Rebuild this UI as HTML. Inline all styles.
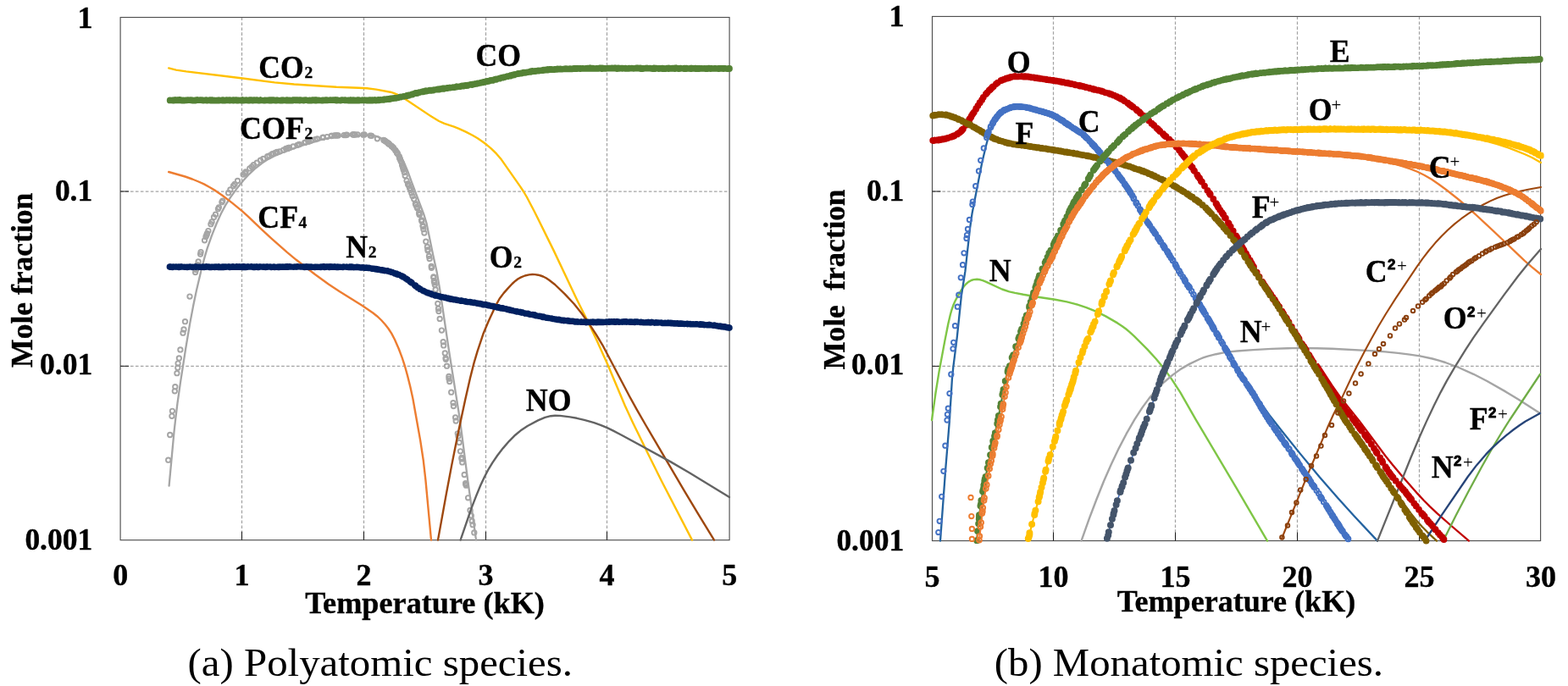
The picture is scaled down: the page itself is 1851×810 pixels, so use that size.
<!DOCTYPE html>
<html lang="en"><head><meta charset="utf-8"><title>Mole fraction vs temperature</title><style>html,body{margin:0;padding:0;background:#fff;overflow:hidden}svg{display:block}text{fill:#000}</style></head><body>
<svg width="1851" height="810" viewBox="0 0 1851 810">
<rect width="1851" height="810" fill="#fff"/>
<!-- (a) polyatomic species -->
<line x1="285.5" y1="20.5" x2="285.5" y2="637.7" stroke="#a3a3a3" stroke-width="1.25" stroke-dasharray="3.6 2.34"/><line x1="429.5" y1="20.5" x2="429.5" y2="637.7" stroke="#a3a3a3" stroke-width="1.25" stroke-dasharray="3.6 2.34"/><line x1="573.5" y1="20.5" x2="573.5" y2="637.7" stroke="#a3a3a3" stroke-width="1.25" stroke-dasharray="3.6 2.34"/><line x1="716.5" y1="20.5" x2="716.5" y2="637.7" stroke="#a3a3a3" stroke-width="1.25" stroke-dasharray="3.6 2.34"/><line x1="142.1" y1="226.0" x2="861.1" y2="226.0" stroke="#a3a3a3" stroke-width="1.25" stroke-dasharray="3.6 2.34"/><line x1="142.1" y1="432.3" x2="861.1" y2="432.3" stroke="#a3a3a3" stroke-width="1.25" stroke-dasharray="3.6 2.34"/>
<rect x="142.1" y="20.5" width="719.0" height="617.2" fill="none" stroke="#4f4f4f" stroke-width="1.15"/><line x1="285.5" y1="627.7" x2="285.5" y2="637.7" stroke="#1a1a1a" stroke-width="1"/><line x1="429.5" y1="627.7" x2="429.5" y2="637.7" stroke="#1a1a1a" stroke-width="1"/><line x1="573.5" y1="627.7" x2="573.5" y2="637.7" stroke="#1a1a1a" stroke-width="1"/><line x1="716.5" y1="627.7" x2="716.5" y2="637.7" stroke="#1a1a1a" stroke-width="1"/><line x1="142.1" y1="226.0" x2="152.1" y2="226.0" stroke="#1a1a1a" stroke-width="1"/><line x1="142.1" y1="432.3" x2="152.1" y2="432.3" stroke="#1a1a1a" stroke-width="1"/>
<clipPath id="cl"><rect x="136.1" y="20.5" width="729.0" height="621.7"/></clipPath>
<g clip-path="url(#cl)">
<path d="M199.2 80.4L207.9 82.6L219.8 84.4L286.5 92.5L324.2 97.4L347.2 99.5L381.1 101.8L397.1 102.8L423.2 103.7L433.2 104.3L444.1 105.6L460.8 108.7L464.7 109.9L468.4 111.4L475.4 115.1L509.6 137.8L518.2 143L524.6 145.8L536 149.6L541.6 151.8L549.8 155.6L557.8 159.8L563.8 163.3L569.6 167.2L574.4 170.8L579.8 175.4L586.2 181.7L592 188.6L614.4 220.6L618.2 226.5L621.8 232.5L631.1 250.2L653.3 295.1L680.3 352.2L694.1 380L704.4 401.7L717.6 431L737.8 479L747.5 499.9L764.6 535L781.1 568.2L817 637.6" fill="none" stroke="#FFC000" stroke-width="2.4" stroke-linecap="round" stroke-linejoin="round"/>
<path d="M199.6 573.6L205.4 510.8L207.3 493.8L209.5 475.9L213.2 450.1L219.2 411.5L224.2 381.9L228.3 360.2L231.8 343.6L237.5 319.2L241.3 304.6L244.7 293.1L249.7 278.9L255.6 264L260.9 252.2L266.1 242.4L272 233.1L279 223.4L287.1 213.2L293.9 205.8L300.5 199.7L309.1 192.8L316.7 187.9L323.8 184.2L335.8 179.3L354.6 172.4L376.6 165.6L389.3 162.5L400.1 160.7L411.1 159.9L431.2 159.5L438.2 159.8L442.1 160.3L445.9 161.4L449.5 163.1L455.3 166.9L461.1 170.9L464.9 174.1L467.8 176.9L470.3 180L473 184.2L477.1 192.2L481.4 202.4L485.8 214.6L500.6 254L503.5 263.6L511.2 300.9L515.5 320.4L519.3 342.1L529.9 413.5L543.1 496.6L552.2 567.2L562 637.6" fill="none" stroke="#A5A5A5" stroke-width="2.3" stroke-linecap="round" stroke-linejoin="round"/>
<g fill="none" stroke="#A5A5A5" stroke-width="1.9"><circle cx="198.7" cy="543.2" r="2.7"/><circle cx="200.7" cy="513.5" r="2.7"/><circle cx="202.9" cy="491.3" r="2.7"/><circle cx="203.4" cy="485.3" r="2.7"/><circle cx="206.3" cy="461.8" r="2.7"/><circle cx="206.8" cy="456.7" r="2.7"/><circle cx="208.9" cy="440.7" r="2.7"/><circle cx="209.8" cy="434.2" r="2.7"/><circle cx="210.1" cy="429.1" r="2.7"/><circle cx="211.4" cy="423" r="2.7"/><circle cx="212.9" cy="412.9" r="2.7"/><circle cx="216" cy="393.2" r="2.7"/><circle cx="217" cy="389" r="2.7"/><circle cx="218.5" cy="379.7" r="2.7"/><circle cx="224" cy="350.1" r="2.7"/><circle cx="230.6" cy="321.6" r="2.7"/><circle cx="231.5" cy="318.6" r="2.7"/><circle cx="232.4" cy="315.8" r="2.7"/><circle cx="233.1" cy="312.7" r="2.7"/><circle cx="234.1" cy="308.9" r="2.7"/><circle cx="236.6" cy="300.1" r="2.7"/><circle cx="237.1" cy="297.6" r="2.7"/><circle cx="241.5" cy="283.8" r="2.7"/><circle cx="243" cy="279.5" r="2.7"/><circle cx="243.9" cy="277.5" r="2.7"/><circle cx="244.5" cy="275.7" r="2.7"/><circle cx="245.9" cy="272.6" r="2.7"/><circle cx="248.9" cy="264.7" r="2.7"/><circle cx="250.1" cy="262" r="2.7"/><circle cx="252.5" cy="256.5" r="2.7"/><circle cx="254.5" cy="253.2" r="2.7"/><circle cx="257.4" cy="246.7" r="2.7"/><circle cx="258.4" cy="244.8" r="2.7"/><circle cx="261.9" cy="238.7" r="2.7"/><circle cx="262.8" cy="237.1" r="2.7"/><circle cx="269.6" cy="227.7" r="2.7"/><circle cx="271.9" cy="223.9" r="2.7"/><circle cx="275.5" cy="219.5" r="2.7"/><circle cx="277.1" cy="217.5" r="2.7"/><circle cx="280.5" cy="213.5" r="2.7"/><circle cx="287.1" cy="206.1" r="2.7"/><circle cx="289.1" cy="204.4" r="2.7"/><circle cx="290.1" cy="203" r="2.7"/><circle cx="294.8" cy="198.9" r="2.7"/><circle cx="297.3" cy="197" r="2.7"/><circle cx="299.4" cy="194.7" r="2.7"/><circle cx="303.3" cy="192.2" r="2.7"/><circle cx="307.5" cy="189.2" r="2.7"/><circle cx="310.8" cy="187.4" r="2.7"/><circle cx="315.7" cy="184.7" r="2.7"/><circle cx="317.9" cy="183.9" r="2.7"/><circle cx="321.1" cy="182" r="2.7"/><circle cx="322.6" cy="181.5" r="2.7"/><circle cx="325" cy="180.4" r="2.7"/><circle cx="326.1" cy="180.2" r="2.7"/><circle cx="327.1" cy="179.5" r="2.7"/><circle cx="330.2" cy="178.8" r="2.7"/><circle cx="334.6" cy="177.2" r="2.7"/><circle cx="337.6" cy="175.5" r="2.7"/><circle cx="339.6" cy="175.4" r="2.7"/><circle cx="340.3" cy="174.7" r="2.7"/><circle cx="341.1" cy="174.5" r="2.7"/><circle cx="341.4" cy="174.4" r="2.7"/><circle cx="346.1" cy="172.9" r="2.7"/><circle cx="351" cy="171.3" r="2.7"/><circle cx="352.5" cy="170.8" r="2.7"/><circle cx="353.4" cy="170.4" r="2.7"/><circle cx="359.7" cy="168.4" r="2.7"/><circle cx="360.7" cy="168.1" r="2.7"/><circle cx="363.8" cy="166.9" r="2.7"/><circle cx="364.8" cy="167.1" r="2.7"/><circle cx="367.4" cy="166" r="2.7"/><circle cx="372" cy="164.7" r="2.7"/><circle cx="374.5" cy="163.9" r="2.7"/><circle cx="380.9" cy="162.4" r="2.7"/><circle cx="381.6" cy="162.2" r="2.7"/><circle cx="386.1" cy="161.6" r="2.7"/><circle cx="391.2" cy="160.5" r="2.7"/><circle cx="391.6" cy="160.4" r="2.7"/><circle cx="394.8" cy="160" r="2.7"/><circle cx="396.7" cy="159.9" r="2.7"/><circle cx="397.8" cy="159.9" r="2.7"/><circle cx="399.2" cy="159.9" r="2.7"/><circle cx="406.1" cy="159.6" r="2.7"/><circle cx="408.3" cy="159.5" r="2.7"/><circle cx="409.5" cy="159.2" r="2.7"/><circle cx="416.3" cy="158.8" r="2.7"/><circle cx="417.1" cy="158.9" r="2.7"/><circle cx="417.7" cy="159" r="2.7"/><circle cx="419.1" cy="159" r="2.7"/><circle cx="422.1" cy="158.9" r="2.7"/><circle cx="428.8" cy="159.2" r="2.7"/><circle cx="430.2" cy="158.9" r="2.7"/><circle cx="437.1" cy="160.1" r="2.7"/><circle cx="438.7" cy="160.3" r="2.7"/><circle cx="445.4" cy="163.8" r="2.7"/><circle cx="452.9" cy="165.5" r="2.7"/><circle cx="453.9" cy="165.8" r="2.7"/><circle cx="455" cy="166.7" r="2.7"/><circle cx="455.9" cy="167.3" r="2.7"/><circle cx="458" cy="169" r="2.7"/><circle cx="458.2" cy="169" r="2.7"/><circle cx="458.8" cy="169.4" r="2.7"/><circle cx="459" cy="170" r="2.7"/><circle cx="460.1" cy="170.6" r="2.7"/><circle cx="462.1" cy="172.4" r="2.7"/><circle cx="462.8" cy="172.8" r="2.7"/><circle cx="464.2" cy="174.3" r="2.7"/><circle cx="464.5" cy="174.6" r="2.7"/><circle cx="466.5" cy="177.1" r="2.7"/><circle cx="467.1" cy="178" r="2.7"/><circle cx="468.5" cy="180" r="2.7"/><circle cx="468.7" cy="180.6" r="2.7"/><circle cx="469.2" cy="180.8" r="2.7"/><circle cx="469" cy="181.2" r="2.7"/><circle cx="471.1" cy="184.5" r="2.7"/><circle cx="471.6" cy="185.9" r="2.7"/><circle cx="471.8" cy="187" r="2.7"/><circle cx="472.3" cy="187.9" r="2.7"/><circle cx="473.1" cy="190.1" r="2.7"/><circle cx="474" cy="191.8" r="2.7"/><circle cx="474.6" cy="194.9" r="2.7"/><circle cx="475.4" cy="197.1" r="2.7"/><circle cx="475.9" cy="198.2" r="2.7"/><circle cx="476.2" cy="200.3" r="2.7"/><circle cx="477.3" cy="203.5" r="2.7"/><circle cx="478.2" cy="207.6" r="2.7"/><circle cx="480.1" cy="213.3" r="2.7"/><circle cx="481.5" cy="216.9" r="2.7"/><circle cx="481.7" cy="217.7" r="2.7"/><circle cx="482.7" cy="219.6" r="2.7"/><circle cx="483.6" cy="222.2" r="2.7"/><circle cx="484.7" cy="224.4" r="2.7"/><circle cx="485.8" cy="227.9" r="2.7"/><circle cx="487" cy="231.6" r="2.7"/><circle cx="488.7" cy="235.1" r="2.7"/><circle cx="490.4" cy="240.4" r="2.7"/><circle cx="491" cy="241.9" r="2.7"/><circle cx="492" cy="244.3" r="2.7"/><circle cx="492.6" cy="245.8" r="2.7"/><circle cx="494.7" cy="251.2" r="2.7"/><circle cx="494.9" cy="252.6" r="2.7"/><circle cx="495.2" cy="253.6" r="2.7"/><circle cx="497.6" cy="259.8" r="2.7"/><circle cx="497.9" cy="261.2" r="2.7"/><circle cx="499.1" cy="266.5" r="2.7"/><circle cx="499.3" cy="267.5" r="2.7"/><circle cx="499.9" cy="270.7" r="2.7"/><circle cx="500.9" cy="275.1" r="2.7"/><circle cx="502.8" cy="285.2" r="2.7"/><circle cx="504.4" cy="291.5" r="2.7"/><circle cx="505" cy="294.8" r="2.7"/><circle cx="505.1" cy="296" r="2.7"/><circle cx="506.5" cy="302.4" r="2.7"/><circle cx="507.1" cy="305.5" r="2.7"/><circle cx="509.2" cy="314.5" r="2.7"/><circle cx="509.4" cy="316.3" r="2.7"/><circle cx="511.8" cy="326.9" r="2.7"/><circle cx="511.9" cy="327.7" r="2.7"/><circle cx="512.4" cy="331.5" r="2.7"/><circle cx="512.5" cy="332.5" r="2.7"/><circle cx="513" cy="333.7" r="2.7"/><circle cx="513.3" cy="336.3" r="2.7"/><circle cx="514.1" cy="341.9" r="2.7"/><circle cx="515.2" cy="348.1" r="2.7"/><circle cx="515.4" cy="349.4" r="2.7"/><circle cx="516.8" cy="358.5" r="2.7"/><circle cx="517.5" cy="364.4" r="2.7"/><circle cx="517.9" cy="367.6" r="2.7"/><circle cx="519.2" cy="376.4" r="2.7"/><circle cx="521.4" cy="390.1" r="2.7"/><circle cx="523.2" cy="403.7" r="2.7"/><circle cx="523.7" cy="407.9" r="2.7"/><circle cx="525.3" cy="416.9" r="2.7"/><circle cx="526.1" cy="422.8" r="2.7"/><circle cx="526.3" cy="424.3" r="2.7"/><circle cx="527.5" cy="432.2" r="2.7"/><circle cx="529.9" cy="444.5" r="2.7"/><circle cx="530" cy="447.2" r="2.7"/><circle cx="530.7" cy="450.6" r="2.7"/><circle cx="532.7" cy="463.2" r="2.7"/><circle cx="535" cy="475.7" r="2.7"/><circle cx="535.4" cy="479.5" r="2.7"/><circle cx="537.6" cy="492.9" r="2.7"/><circle cx="538.2" cy="497" r="2.7"/><circle cx="540.3" cy="511.8" r="2.7"/><circle cx="541" cy="515" r="2.7"/><circle cx="542.1" cy="522.5" r="2.7"/><circle cx="543.5" cy="532.8" r="2.7"/><circle cx="545" cy="540.3" r="2.7"/><circle cx="545" cy="541.9" r="2.7"/><circle cx="545.7" cy="545.9" r="2.7"/><circle cx="548.2" cy="560.5" r="2.7"/><circle cx="549.6" cy="570.6" r="2.7"/><circle cx="549.8" cy="571.8" r="2.7"/><circle cx="550.3" cy="573.2" r="2.7"/><circle cx="552.6" cy="587.8" r="2.7"/><circle cx="555" cy="602.5" r="2.7"/><circle cx="556.3" cy="608.8" r="2.7"/><circle cx="557.2" cy="615.2" r="2.7"/><circle cx="558.1" cy="619.7" r="2.7"/><circle cx="559.8" cy="628.9" r="2.7"/></g>
<path d="M199.2 203L218.5 208.5L227 211.5L234.4 214.5L240.8 217.4L247.8 221.2L254.7 225.4L262.1 230.5L274.1 239.6L285.7 249.1L292.4 255.2L308.3 270.4L320.2 281.3L338.9 297.8L349.7 306.8L371.9 324L388.1 335.8L400.6 344.1L427.9 361L440.3 369.5L445 373.2L450.1 378L454.8 383.2L458.5 388L462.3 393.9L466 401L470.8 412L474.7 422.3L477.8 431.8L481 443.4L484.4 457L487.4 470.7L496.2 520.1L499.8 543.8L502.4 566.7L509 637.6" fill="none" stroke="#ED7D31" stroke-width="2.4" stroke-linecap="round" stroke-linejoin="round"/>
<path d="M517 637.6L526.8 583.4L533.1 549.9L541.1 509.7L549.3 471.5L555.1 446.1L559.5 428.6L563.5 415.2L570.4 394.3L576.6 379.5L585.4 360.4L589.8 352.5L594.6 346.1L599.9 340.1L604.7 335L608.4 331.7L611.6 329.3L615.1 327.4L619.7 325.5L624.6 324.4L628.5 324L631.5 324.1L635.4 324.7L638.3 325.5L641.1 326.5L644.6 328.3L648 330.5L655.1 336L666.7 347.1L677.6 358.8L686.4 369.7L695.2 381.9L704 395.3L711.2 407.3L743.4 468.5L751.6 483.4L762.6 502.5L807.7 579.4L824.2 606.9L843 637.6" fill="none" stroke="#9E480E" stroke-width="2.4" stroke-linecap="round" stroke-linejoin="round"/>
<path d="M543.6 637.6L556.3 600.6L562.1 585.6L567.4 572.7L572.1 562.7L576.8 553.8L581.5 546.1L587.2 537.8L593.9 529.1L601.1 520.8L608.2 513.7L614.4 508.6L622.7 503L635.1 496.4L643.4 492.9L650.1 491.2L655.1 490.7L661.1 490.9L673 492.4L680.9 493.8L689.7 495.9L701.3 499.2L708.9 501.8L716.3 504.9L723.5 508.4L733.3 513.5L791.4 545.1L813.9 558.3L861 587" fill="none" stroke="#636363" stroke-width="2.4" stroke-linecap="round" stroke-linejoin="round"/>
<path d="M200.5 118.4L431.9 118.4L446.9 118.2L457.8 117.1L470.7 115L482.4 112.6L495 109.1L501.8 107.7L544.5 101.8L558.3 99.6L576 95.9L606.2 88.5L616.9 86.1L628.8 84.2L644.7 82.6L653.7 81.9L665.7 81.4L698.7 80.8L861 81" fill="none" stroke="#548235" stroke-width="2.2" stroke-linecap="round" stroke-linejoin="round"/><path d="M200.7 118.4h0M204 118.3h0M204.2 118.6h0M205.2 118.5h0M206.4 118.2h0M206.7 118.4h0M207.1 118.2h0M209.2 118.2h0M209.7 118.4h0M210.7 118.2h0M211.4 118.3h0M211.9 118.2h0M212.1 118.2h0M213.2 118.2h0M213.1 118.3h0M214.6 118.5h0M216.3 118.4h0M217 118.6h0M217.8 118.6h0M219.2 118.3h0M220.5 118.3h0M221.9 118.2h0M224.9 118.2h0M225.7 118.3h0M227.2 118.5h0M230.5 118.5h0M231 118.6h0M231.5 118.3h0M232.6 118.2h0M233.2 118.2h0M236.4 118.2h0M238.5 118.3h0M239.5 118.4h0M240 118.6h0M243.3 118.2h0M244.2 118.5h0M244.7 118.5h0M245 118.4h0M248 118.2h0M248.5 118.6h0M248.9 118.4h0M249 118.4h0M249.7 118.6h0M250.2 118.2h0M251.3 118.5h0M251.2 118.5h0M251.6 118.5h0M253.8 118.6h0M255.5 118.6h0M257.6 118.3h0M258.8 118.5h0M262.5 118.5h0M263 118.2h0M264.7 118.4h0M265.8 118.5h0M267.1 118.3h0M267.5 118.2h0M268.5 118.4h0M270.4 118.4h0M271.1 118.2h0M271.3 118.5h0M271.9 118.4h0M275.3 118.5h0M275.4 118.2h0M275.8 118.5h0M276.7 118.4h0M277.9 118.3h0M278.7 118.3h0M279.5 118.5h0M281.2 118.5h0M284.7 118.5h0M286.1 118.3h0M286.5 118.5h0M286.8 118.3h0M287.7 118.6h0M289.1 118.3h0M290.7 118.4h0M291.3 118.4h0M292.9 118.6h0M294.5 118.5h0M294.8 118.2h0M296.6 118.2h0M297.3 118.4h0M298 118.6h0M298.7 118.6h0M300 118.2h0M301.3 118.4h0M303 118.2h0M305 118.6h0M306.1 118.6h0M306.4 118.6h0M307.2 118.3h0M307.4 118.4h0M307.8 118.4h0M311.3 118.6h0M312.9 118.5h0M316.4 118.3h0M317.9 118.5h0M318.2 118.4h0M318.8 118.2h0M319.6 118.4h0M320.4 118.6h0M320.9 118.2h0M322.9 118.4h0M323.9 118.4h0M325 118.6h0M326.4 118.5h0M327.5 118.4h0M330.7 118.6h0M330.8 118.6h0M332.2 118.4h0M333.5 118.3h0M333.5 118.5h0M334.7 118.4h0M338 118.6h0M337.9 118.6h0M338.6 118.3h0M338.8 118.2h0M339.3 118.5h0M340 118.6h0M342 118.5h0M345.1 118.4h0M345.4 118.5h0M346.9 118.2h0M348.7 118.2h0M350.1 118.4h0M350.7 118.3h0M351.4 118.4h0M352.7 118.3h0M353.4 118.3h0M353.8 118.6h0M354.7 118.2h0M358.3 118.4h0M358.4 118.6h0M360.8 118.2h0M364 118.6h0M363.9 118.6h0M365.4 118.5h0M366.3 118.6h0M367.9 118.5h0M369.1 118.3h0M369.9 118.2h0M372.1 118.5h0M372.6 118.3h0M373.4 118.5h0M374.2 118.3h0M376.2 118.3h0M379.7 118.6h0M381.1 118.6h0M381.7 118.3h0M383.7 118.4h0M383.8 118.4h0M385.5 118.2h0M386.7 118.3h0M390.1 118.2h0M393.2 118.2h0M395.4 118.2h0M396.1 118.2h0M397 118.4h0M397.3 118.4h0M397.4 118.5h0M398.2 118.4h0M398.6 118.4h0M401.9 118.6h0M404.1 118.2h0M407.2 118.2h0M408 118.4h0M411.2 118.5h0M413.2 118.4h0M414 118.5h0M414.4 118.5h0M416.4 118.4h0M417 118.5h0M418.6 118.4h0M419.7 118.6h0M419.6 118.6h0M421.4 118.5h0M423.2 118.2h0M424.1 118.5h0M427.4 118.4h0M428.2 118.4h0M430.3 118.3h0M430.7 118.4h0M433 118.6h0M433 118.4h0M435 118.7h0M435.2 118.5h0M437.1 118.2h0M437.9 118.6h0M438 118.6h0M438.4 118.4h0M439.6 118.2h0M439.9 118.5h0M441.9 118.3h0M442.1 118.2h0M442.9 118.2h0M443.8 118.6h0M445.2 118.1h0M446.9 118h0M447.6 118.3h0M449.3 117.9h0M452.3 117.9h0M453.3 117.4h0M454.2 117.4h0M456 117.3h0M456.7 117.2h0M457.5 117.1h0M459.9 117h0M460.3 116.7h0M460.9 116.6h0M461.6 116.6h0M463.6 116.2h0M466.1 115.8h0M466.5 115.9h0M469.8 115.3h0M472.3 114.6h0M473 114.6h0M476.5 113.8h0M479.9 113.3h0M480.4 112.9h0M480.8 112.9h0M481.2 112.7h0M482.4 112.7h0M483.9 112.1h0M486 111.6h0M486.7 111.5h0M487.4 111.1h0M490.7 110h0M491.4 109.8h0M492.2 110h0M493 109.7h0M495 109.1h0M498.4 108.4h0M500.6 108h0M501.4 107.8h0M502.2 107.5h0M502.8 107.5h0M503.6 107.5h0M504.1 107.3h0M505.3 107.1h0M507.3 106.7h0M508.4 106.9h0M509.2 106.7h0M510.6 106.6h0M511.5 106.5h0M512.5 106.1h0M515.9 105.7h0M516.8 105.4h0M517 105.7h0M518.5 105.5h0M519.2 105.2h0M520.1 105.1h0M521.4 104.8h0M521.9 104.9h0M522.9 104.5h0M523.5 104.9h0M524.5 104.5h0M527.3 104.1h0M528.3 104h0M528.6 103.8h0M529.1 103.8h0M530.5 103.7h0M531.5 103.6h0M535 103.2h0M536.6 103.1h0M538.9 102.5h0M539.2 102.3h0M542.7 102.2h0M544.7 101.6h0M545.2 101.7h0M546.5 101.4h0M547.2 101.5h0M548.8 101.2h0M549.5 100.9h0M551.2 101h0M551.7 100.9h0M552.1 100.6h0M555.6 99.9h0M557.1 100h0M557.4 99.7h0M559.8 99.3h0M562 98.9h0M564 98.4h0M567.4 97.8h0M568 97.6h0M570 97.3h0M571.1 96.9h0M572 96.7h0M574 96.1h0M575.7 96.1h0M575.9 95.8h0M576.9 95.7h0M579.2 95h0M581.4 94.9h0M581.6 94.7h0M584.9 93.6h0M585.7 93.8h0M586 93.4h0M589.6 92.7h0M589.9 92.6h0M593.1 91.7h0M595.6 91.1h0M599.1 90.2h0M602.1 89.7h0M603.2 89.2h0M603.4 88.9h0M605 88.7h0M605.8 88.4h0M606.8 88.4h0M608.2 87.8h0M611.7 87h0M612.2 86.9h0M615.6 86.5h0M616.4 86.1h0M618.1 85.7h0M619.7 85.8h0M620.3 85.7h0M623.5 85.1h0M625.2 84.8h0M625.7 84.9h0M626.9 84.2h0M627.5 84.4h0M628.3 84h0M628.6 84.2h0M632 84h0M635.5 83.5h0M636.1 83.6h0M639.4 83.2h0M640.2 83.1h0M641.2 83h0M641.5 82.7h0M642.6 82.8h0M643.4 82.6h0M645.4 82.4h0M646.1 82.4h0M646.3 82.3h0M646.8 82.5h0M648.3 82.1h0M649 82h0M649.8 81.9h0M650.9 82h0M651.9 82.2h0M654.8 82h0M655.5 81.8h0M657.4 81.7h0M657.7 81.8h0M658.3 81.5h0M659.4 81.6h0M659.8 81.6h0M660 81.7h0M661.4 81.3h0M662.7 81.7h0M666 81.4h0M667.6 81.2h0M669.8 81.3h0M671.7 81.4h0M673 81.2h0M674.4 81.4h0M676.2 81.1h0M677.4 80.9h0M678.2 81.1h0M679.3 81h0M681.2 81h0M681.6 80.8h0M682.2 80.8h0M684.6 80.8h0M684.8 81h0M685.2 81.1h0M687.3 80.9h0M688.2 80.9h0M691.4 80.9h0M693.3 80.7h0M694.6 80.8h0M694.7 80.8h0M695.3 80.9h0M695.6 80.7h0M696 80.7h0M697.2 80.7h0M697.5 80.7h0M698.4 80.9h0M699.9 80.6h0M701.5 80.9h0M703.9 80.8h0M704.6 80.9h0M706.6 80.8h0M707.5 80.6h0M707.8 80.6h0M710 80.5h0M710.5 81h0M712.2 80.7h0M712.7 80.8h0M714.5 80.9h0M717.6 80.6h0M719.6 80.7h0M721.1 80.7h0M722.5 80.5h0M724.3 80.6h0M725.5 80.5h0M726.7 80.5h0M728.4 81h0M729.3 80.7h0M729.9 80.5h0M730.9 80.8h0M733.2 80.6h0M734.7 80.8h0M735.1 80.6h0M738.3 80.7h0M739 80.9h0M742.5 80.8h0M742.7 80.6h0M745.9 80.7h0M748 80.8h0M751.4 80.5h0M753 80.5h0M753.7 80.7h0M755.8 80.5h0M756.4 81h0M757.2 80.6h0M758.8 81h0M759.2 80.8h0M762.3 80.6h0M763.6 80.7h0M764.2 80.6h0M767.3 80.6h0M769.6 80.9h0M770.3 81h0M771.3 80.6h0M772 80.7h0M773.2 81h0M773 80.7h0M774.7 80.6h0M777.8 81h0M779.3 80.8h0M780 80.8h0M780.6 80.9h0M781.3 80.8h0M781.8 80.6h0M781.9 81h0M782.4 80.8h0M783 80.8h0M783.8 81h0M785.9 80.8h0M785.8 81h0M786.3 80.9h0M786.6 80.9h0M787.5 80.7h0M789.3 81h0M789.4 80.7h0M789.8 80.6h0M790.9 80.8h0M793.2 80.9h0M793.5 80.8h0M793.7 80.7h0M795.8 80.7h0M795.9 80.8h0M796.8 80.7h0M796.7 81h0M797.1 80.8h0M797.9 80.7h0M798.3 80.6h0M799 80.7h0M801 81h0M801.7 81.1h0M802.1 80.8h0M802.4 80.9h0M803.4 80.7h0M806.5 80.8h0M807.3 81h0M808 80.7h0M809 81h0M810.1 80.8h0M810.1 81h0M810.4 80.7h0M811.1 80.8h0M814.3 80.8h0M815 81h0M815.4 80.7h0M816.2 80.9h0M816.3 81h0M816.8 80.6h0M818.7 80.8h0M821 81.1h0M820.8 80.7h0M823.1 80.8h0M824.1 81h0M824.9 81h0M825.4 81.1h0M826.1 80.9h0M826.3 80.9h0M828.5 80.9h0M831.3 80.9h0M832.8 81.1h0M833.7 80.9h0M833.9 81.1h0M834.3 81.1h0M835.2 81.1h0M836.9 80.7h0M838.9 81.1h0M839.3 80.9h0M840.1 80.9h0M843.3 80.9h0M844.8 80.9h0M848 81h0M848.9 81.1h0M849.6 80.9h0M850.5 80.8h0M850.9 80.8h0M851.4 80.9h0M852.5 80.8h0M854 81h0M854.6 80.8h0M856 80.9h0M859.3 81.2h0M860.3 81h0M861 81h0" fill="none" stroke="#548235" stroke-width="7.8" stroke-linecap="round"/>
<path d="M200.5 315.2L398 315.2L420.1 315.5L434.1 316.4L449.9 318.7L455.9 319.8L463.6 321.9L470.2 324.2L474.7 326.3L479.9 329.4L484.8 332.9L493.4 339.8L497.6 342.5L501.1 344.3L504.8 345.8L515.4 349.2L524.1 351.3L533.9 353.3L564.6 358.4L577.4 360.8L627.4 371.5L654 376.7L672.9 379.2L687.9 380.3L698.9 380.5L729 380L745 380.1L774.1 381L825.2 383.1L844.2 384.4L861 387" fill="none" stroke="#002060" stroke-width="2.2" stroke-linecap="round" stroke-linejoin="round"/><path d="M200.4 315.1h0M201.1 315.1h0M201.7 315.3h0M202.1 315.3h0M203.6 315.4h0M204.6 315.1h0M207.9 315.1h0M211.2 315.4h0M211.1 315h0M212.9 315.3h0M213.4 315h0M214.3 315h0M217.6 315.2h0M221 315.4h0M222.7 315.3h0M224.2 315h0M227.3 315.4h0M230.6 315.1h0M231.7 315.1h0M234.8 315.2h0M236.7 315.3h0M238.8 315.2h0M239.7 315h0M240.8 315.4h0M243.1 315.1h0M243.1 315.2h0M243.4 315.1h0M244.5 315h0M246.4 315h0M247.3 315.4h0M249.5 315.4h0M250.8 315.2h0M252.6 315.2h0M253.6 315.4h0M255.3 315h0M255.8 315.2h0M257.7 315.4h0M257.6 315.1h0M258.4 315.1h0M259.3 315.4h0M259.7 315.4h0M259.8 315.3h0M261.8 315.4h0M262.7 315h0M263.9 315.4h0M264.1 315.4h0M264.5 315h0M265.1 315.2h0M266.7 315.3h0M266.5 315h0M269.9 315.1h0M270.5 315.1h0M271.2 315.4h0M271.7 315.2h0M273.4 315.2h0M274 315.1h0M274.9 315h0M275.8 315.1h0M276.4 315.3h0M277.9 315.2h0M278.8 315h0M279.4 315.1h0M280.4 315.1h0M280.7 315.2h0M280.9 315.2h0M281.6 315.2h0M282.2 315.1h0M282.8 315.1h0M283 315.3h0M283.5 315.3h0M284.7 315.2h0M286.3 315.4h0M286.6 315h0M287 315h0M287.1 315.4h0M288 315.1h0M288.1 315.3h0M288.4 315h0M290.4 315.4h0M292.5 315.1h0M293 315h0M295.8 315h0M296.9 315h0M297.4 315h0M299.1 315.4h0M300.2 315.2h0M300.1 315.1h0M300.8 315.4h0M302.5 315h0M303.4 315h0M304.4 315.4h0M305.2 315.4h0M306.3 315h0M307.5 315h0M310.6 315.2h0M311.1 315h0M313.5 315.4h0M313.4 315.3h0M314.6 315h0M314.6 315h0M315.8 315.1h0M318.9 315.1h0M319.7 315.3h0M320.2 315.4h0M321.9 315.2h0M323.3 315.1h0M324.2 315.4h0M327.7 315.3h0M328.6 315.4h0M329.4 315.4h0M329.9 315.2h0M330.7 315.1h0M332.4 315.3h0M333.3 315h0M335.5 315.2h0M336.4 315.3h0M337.2 315.2h0M339.3 314.9h0M340.1 315.2h0M341.9 314.9h0M343.5 315h0M346.6 315.2h0M348 315h0M349.8 315.1h0M351.1 314.9h0M354.6 315h0M357.9 315.1h0M358.4 315.2h0M359.5 315.4h0M359.9 315.3h0M361.7 315h0M362.1 315.1h0M364.2 315.4h0M364.8 315.2h0M365.7 315.2h0M366.8 315.2h0M367.1 315h0M367.8 315.3h0M368.2 315.2h0M371.7 315.4h0M373.1 315.3h0M374.9 315.3h0M378.3 315.3h0M378.6 315.4h0M380.8 315h0M382.5 314.9h0M383.1 315.4h0M383.7 315.3h0M385.4 315.1h0M386.5 315h0M388.5 315.3h0M388.7 315.4h0M389 315.4h0M390.5 315.1h0M390.7 315.1h0M392.6 315h0M392.8 315.2h0M393.7 315.2h0M394.2 315.2h0M394.8 315.1h0M395.4 315.1h0M397.3 315.4h0M398.5 315.1h0M399.2 315.4h0M399.1 315.2h0M401.3 315.3h0M404.7 315.5h0M405.4 315.2h0M405.6 315.1h0M409.1 315.3h0M409.4 315.2h0M411.4 315.5h0M412.2 315.4h0M413.9 315.1h0M414.6 315.2h0M415.3 315.1h0M415.1 315.4h0M416.8 315.2h0M417.8 315.6h0M418.3 315.5h0M420.8 315.5h0M421.2 315.3h0M421.6 315.5h0M422.4 315.5h0M423.6 315.5h0M424.3 315.7h0M425.8 316h0M427.6 315.8h0M428.5 316h0M429.8 316h0M430.2 316.2h0M432.5 316.1h0M434.8 316.5h0M435.4 316.3h0M438.7 317.1h0M439.9 317.2h0M441.2 317.3h0M443 317.8h0M443.9 317.6h0M444.1 318h0M445.8 318.2h0M446.5 318.1h0M448.3 318.5h0M450.3 318.9h0M451.1 318.8h0M451.7 319.1h0M452.5 319h0M453 319.2h0M453.9 319.6h0M457.3 319.9h0M459.5 320.6h0M460.2 320.8h0M462.4 321.5h0M463 321.5h0M466.2 322.9h0M467.8 323.1h0M468.9 324h0M469.5 324.1h0M470.7 324.3h0M474.2 326h0M474.5 326.1h0M475.8 326.9h0M476.4 327.1h0M479.3 329h0M481.1 330.3h0M484.1 332.6h0M484.8 333h0M485.3 333.2h0M486.1 334h0M489.7 336.8h0M490 337h0M490.6 337.3h0M491 338h0M493.3 339.8h0M494 340h0M495.9 341.4h0M499.4 343.2h0M500.4 343.7h0M503.6 345.2h0M505.1 345.7h0M505.4 345.9h0M507.7 346.7h0M508.6 346.9h0M509.1 347.3h0M509.4 347.5h0M510 347.8h0M513.6 348.6h0M513.8 348.9h0M514.6 349h0M518 349.8h0M519 350.1h0M520.6 350.8h0M522.2 350.8h0M525.4 351.4h0M527.8 352.1h0M528.4 352.3h0M528.8 352.5h0M529.5 352.4h0M530 352.8h0M530.9 352.5h0M531.7 352.7h0M532 353.2h0M533.3 353h0M534.9 353.6h0M536.3 353.7h0M538.3 354.1h0M539.3 354.2h0M540.3 354.5h0M543.7 355.2h0M544 355h0M544.8 355h0M545.6 355.2h0M549.2 355.9h0M550 356.2h0M550.7 356.2h0M551.6 356.5h0M554.8 356.6h0M555.2 356.8h0M556.1 356.9h0M559.2 357.5h0M559.8 357.4h0M562.9 358.1h0M565.4 358.5h0M566.3 358.7h0M566.8 358.6h0M567.8 358.8h0M568.6 359.1h0M570.3 359.7h0M572.4 359.6h0M574.7 360.1h0M575 360.2h0M575.8 360.5h0M576.3 360.4h0M576.7 360.7h0M579.8 361.2h0M582.4 361.6h0M582.8 362h0M583.7 362.3h0M587 363h0M587.5 362.7h0M588.3 362.8h0M589.4 363.5h0M591.6 363.9h0M592.2 364h0M592.6 363.9h0M593.3 363.9h0M593.8 364.2h0M597.2 364.8h0M599.4 365.5h0M600.5 365.6h0M600.6 365.8h0M601.6 365.9h0M602 366.3h0M603 366.2h0M604.5 366.6h0M604.9 366.7h0M608.4 367.5h0M609.2 367.8h0M609.8 368h0M610.2 367.8h0M613.7 368.5h0M614.4 368.8h0M614.6 368.6h0M615.3 368.7h0M615.8 369.1h0M616.2 368.9h0M619.8 370.1h0M623.1 370.4h0M623.9 370.7h0M624.8 371h0M625.3 371.2h0M628.9 371.6h0M630.5 371.9h0M630.9 371.9h0M632.1 372.6h0M632.8 372.7h0M636.2 373.3h0M638.3 373.6h0M640.9 374.4h0M641.4 374h0M641.8 374.3h0M645.1 375.2h0M647.4 375.5h0M650.9 376h0M652.7 376.5h0M655.8 377h0M658.1 377.5h0M659.6 377.4h0M660.1 377.6h0M661.2 377.7h0M662.6 378.1h0M664.9 378.3h0M665.7 378.6h0M666.7 378.5h0M670.2 378.6h0M670.5 379h0M671.1 378.9h0M672.1 379h0M672.3 379.3h0M674.7 379.3h0M676.3 379.3h0M678.7 379.9h0M679.1 380h0M681.2 379.9h0M682.1 380.1h0M685.5 380.3h0M686.2 380.3h0M686.3 380.3h0M688.5 380.3h0M689.3 380.2h0M691.6 380.6h0M691.7 380.6h0M692.2 380.6h0M694.1 380.4h0M697.4 380.3h0M699.6 380.5h0M699.5 380.3h0M699.8 380.4h0M700.3 380.6h0M701.2 380.4h0M703.1 380.6h0M704.6 380.3h0M704.8 380.6h0M705.5 380.3h0M706.5 380.1h0M707.7 380.4h0M708.8 380.2h0M710.3 380.4h0M712.3 380.5h0M714.4 380.2h0M716 380.1h0M718 380.1h0M719.2 379.9h0M719 380.1h0M719.7 380.3h0M720.3 380.1h0M721.9 379.9h0M723.9 380h0M724.6 379.8h0M725 379.8h0M725.3 380.2h0M727.3 380.1h0M727.9 379.8h0M728.1 379.8h0M730.1 380.1h0M730.5 380.2h0M731.2 380.2h0M734.6 380.1h0M735.8 380h0M737 379.8h0M739 380h0M739.5 380.1h0M739.8 380h0M743.5 380.2h0M743.6 380.1h0M745.4 380h0M746.8 380.3h0M748.4 380.3h0M749.1 380.4h0M750.9 380h0M752.3 380.1h0M755.7 380.5h0M756.7 380.3h0M757.1 380.5h0M757.6 380.5h0M759.3 380.7h0M762.6 380.8h0M763.5 380.7h0M764.5 380.8h0M764.8 380.6h0M765.5 380.6h0M767.8 380.9h0M768.9 380.6h0M769.7 380.6h0M772.8 381.1h0M774.4 380.8h0M775.2 381h0M777 381h0M780.5 381h0M780.9 381.2h0M781.7 381.5h0M784.6 381.5h0M785.1 381.4h0M788.4 381.4h0M789 381.3h0M791.3 381.4h0M792.2 381.7h0M792.8 381.7h0M793.6 381.6h0M795.5 382h0M796.6 381.8h0M798.8 382h0M799.5 381.8h0M800.8 382.3h0M802.4 382h0M803.1 382.2h0M803.8 382.1h0M804.3 382.2h0M805.6 382.3h0M807.8 382.5h0M811.2 382.2h0M811.6 382.6h0M814.6 382.6h0M815.6 382.7h0M818.1 382.7h0M821.2 382.8h0M822.3 382.7h0M822.5 382.8h0M826.1 383.2h0M826.4 383.2h0M826.9 382.9h0M827.6 383h0M828 383.3h0M829.5 383.1h0M830.1 383.3h0M830.5 383.4h0M831.3 383.6h0M834.7 383.7h0M836.8 383.6h0M837.7 383.6h0M838 383.7h0M838.5 383.8h0M842.1 384.3h0M843.2 384.1h0M846.1 384.7h0M848.6 385.2h0M850 385h0M851.3 385.3h0M851.9 385.7h0M854.3 386h0M854.4 385.8h0M855 385.8h0M856.7 386.3h0M857.1 386.2h0M857.8 386.6h0M858.4 386.7h0M858.6 386.6h0M859.9 386.9h0M860.3 386.9h0M861 387.1h0" fill="none" stroke="#002060" stroke-width="7.6" stroke-linecap="round"/>
</g>
<text font-family="'Liberation Serif','Times New Roman',Times,serif" font-weight="bold" font-size="37.5" stroke="#000" stroke-width="0.35"><tspan x="305.3" y="92" textLength="53.5" lengthAdjust="spacingAndGlyphs">CO</tspan><tspan x="359.4" y="92" font-size="19.5">2</tspan></text>
<text font-family="'Liberation Serif','Times New Roman',Times,serif" font-weight="bold" font-size="37.5" stroke="#000" stroke-width="0.35"><tspan x="283.0" y="163.8" textLength="76.0" lengthAdjust="spacingAndGlyphs">COF</tspan><tspan x="359.6" y="163.8" font-size="19.5">2</tspan></text>
<text font-family="'Liberation Serif','Times New Roman',Times,serif" font-weight="bold" font-size="37.5" stroke="#000" stroke-width="0.35"><tspan x="561.6" y="78" textLength="53.5" lengthAdjust="spacingAndGlyphs">CO</tspan></text>
<text font-family="'Liberation Serif','Times New Roman',Times,serif" font-weight="bold" font-size="37.5" stroke="#000" stroke-width="0.35"><tspan x="304.3" y="269" textLength="47.7" lengthAdjust="spacingAndGlyphs">CF</tspan><tspan x="352.6" y="269" font-size="19.5">4</tspan></text>
<text font-family="'Liberation Serif','Times New Roman',Times,serif" font-weight="bold" font-size="37.5" stroke="#000" stroke-width="0.35"><tspan x="408.3" y="304.4" textLength="25.9" lengthAdjust="spacingAndGlyphs">N</tspan><tspan x="434.8" y="304.4" font-size="19.5">2</tspan></text>
<text font-family="'Liberation Serif','Times New Roman',Times,serif" font-weight="bold" font-size="37.5" stroke="#000" stroke-width="0.35"><tspan x="577.8" y="316.4" textLength="27.9" lengthAdjust="spacingAndGlyphs">O</tspan><tspan x="606.3" y="316.4" font-size="19.5">2</tspan></text>
<text font-family="'Liberation Serif','Times New Roman',Times,serif" font-weight="bold" font-size="37.5" stroke="#000" stroke-width="0.35"><tspan x="620.8" y="485" textLength="53.7" lengthAdjust="spacingAndGlyphs">NO</tspan></text>
<text x="91.6" y="32.5" textLength="18.0" lengthAdjust="spacingAndGlyphs" font-family="'Liberation Serif','Times New Roman',Times,serif" font-weight="bold" font-size="36" stroke="#000" stroke-width="0.35">1</text>
<text x="64.9" y="237.2" textLength="44.3" lengthAdjust="spacingAndGlyphs" font-family="'Liberation Serif','Times New Roman',Times,serif" font-weight="bold" font-size="36" stroke="#000" stroke-width="0.35">0.1</text>
<text x="47.1" y="441.9" textLength="62.1" lengthAdjust="spacingAndGlyphs" font-family="'Liberation Serif','Times New Roman',Times,serif" font-weight="bold" font-size="36" stroke="#000" stroke-width="0.35">0.01</text>
<text x="29.4" y="649.0" textLength="79.8" lengthAdjust="spacingAndGlyphs" font-family="'Liberation Serif','Times New Roman',Times,serif" font-weight="bold" font-size="36" stroke="#000" stroke-width="0.35">0.001</text>
<text x="142.2" y="691.3" text-anchor="middle" font-family="'Liberation Serif','Times New Roman',Times,serif" font-weight="bold" font-size="36" stroke="#000" stroke-width="0.35">0</text>
<text x="285.5" y="691.3" text-anchor="middle" font-family="'Liberation Serif','Times New Roman',Times,serif" font-weight="bold" font-size="36" stroke="#000" stroke-width="0.35">1</text>
<text x="429.5" y="691.3" text-anchor="middle" font-family="'Liberation Serif','Times New Roman',Times,serif" font-weight="bold" font-size="36" stroke="#000" stroke-width="0.35">2</text>
<text x="573.5" y="691.3" text-anchor="middle" font-family="'Liberation Serif','Times New Roman',Times,serif" font-weight="bold" font-size="36" stroke="#000" stroke-width="0.35">3</text>
<text x="716.5" y="691.3" text-anchor="middle" font-family="'Liberation Serif','Times New Roman',Times,serif" font-weight="bold" font-size="36" stroke="#000" stroke-width="0.35">4</text>
<text x="861.2" y="691.3" text-anchor="middle" font-family="'Liberation Serif','Times New Roman',Times,serif" font-weight="bold" font-size="36" stroke="#000" stroke-width="0.35">5</text>
<text x="360.3" y="724.2" textLength="282.6" lengthAdjust="spacingAndGlyphs" font-family="'Liberation Serif','Times New Roman',Times,serif" font-weight="bold" font-size="36" stroke="#000" stroke-width="0.35">Temperature (kK)</text>
<text transform="translate(37.6,433.9) rotate(-90)" textLength="206.3" lengthAdjust="spacingAndGlyphs" font-family="'Liberation Serif','Times New Roman',Times,serif" font-weight="bold" font-size="36" stroke="#000" stroke-width="0.35">Mole fraction</text>
<text x="221.6" y="797.8" textLength="454.4" lengthAdjust="spacingAndGlyphs" font-family="'Liberation Serif','Times New Roman',Times,serif" font-size="46.5">(a) Polyatomic species.</text>
<!-- (b) monatomic species -->
<line x1="1243.5" y1="19.45" x2="1243.5" y2="638.6" stroke="#a3a3a3" stroke-width="1.25" stroke-dasharray="3.6 2.34"/><line x1="1387.5" y1="19.45" x2="1387.5" y2="638.6" stroke="#a3a3a3" stroke-width="1.25" stroke-dasharray="3.6 2.34"/><line x1="1531.5" y1="19.45" x2="1531.5" y2="638.6" stroke="#a3a3a3" stroke-width="1.25" stroke-dasharray="3.6 2.34"/><line x1="1675.5" y1="19.45" x2="1675.5" y2="638.6" stroke="#a3a3a3" stroke-width="1.25" stroke-dasharray="3.6 2.34"/><line x1="1100.5" y1="226.0" x2="1818.6" y2="226.0" stroke="#a3a3a3" stroke-width="1.25" stroke-dasharray="3.6 2.34"/><line x1="1100.5" y1="432.4" x2="1818.6" y2="432.4" stroke="#a3a3a3" stroke-width="1.25" stroke-dasharray="3.6 2.34"/>
<rect x="1100.5" y="19.45" width="718.1" height="619.1" fill="none" stroke="#4f4f4f" stroke-width="1.15"/><line x1="1243.5" y1="628.6" x2="1243.5" y2="638.6" stroke="#1a1a1a" stroke-width="1"/><line x1="1387.5" y1="628.6" x2="1387.5" y2="638.6" stroke="#1a1a1a" stroke-width="1"/><line x1="1531.5" y1="628.6" x2="1531.5" y2="638.6" stroke="#1a1a1a" stroke-width="1"/><line x1="1675.5" y1="628.6" x2="1675.5" y2="638.6" stroke="#1a1a1a" stroke-width="1"/><line x1="1100.5" y1="226.0" x2="1110.5" y2="226.0" stroke="#1a1a1a" stroke-width="1"/><line x1="1100.5" y1="432.4" x2="1110.5" y2="432.4" stroke="#1a1a1a" stroke-width="1"/>
<clipPath id="cr"><rect x="1094.5" y="19.45" width="728.0999999999999" height="623.6"/></clipPath>
<g clip-path="url(#cr)">
<path d="M1100 496L1104.6 463.3L1108.6 438.6L1115.4 402.1L1119.3 382.5L1121.8 371.7L1123.4 366L1125.4 360.3L1127.4 355.7L1130.2 350.4L1134.2 343.5L1137.6 338.5L1140.2 335.5L1143.2 332.9L1146.6 331L1149.4 330.1L1153.3 329.8L1157.2 330.3L1160 331.2L1163.7 332.6L1182.8 341.5L1191.4 344.3L1198.2 345.9L1208 347.8L1223.8 350.5L1245.6 353.8L1259.4 356.4L1269.1 358.8L1282.4 363.1L1293.6 367.6L1305.2 373.4L1319.1 381.4L1324.1 384.7L1329 388.3L1333.6 392.1L1338.8 396.8L1354.3 412.4L1364.5 423.5L1373.4 434.3L1383.4 448.1L1393.2 463.2L1411.6 495.3L1460.1 577.2L1496 638.6" fill="none" stroke="#7FC646" stroke-width="2.4" stroke-linecap="round" stroke-linejoin="round"/>
<path d="M1276.5 638.6L1285.9 612.1L1294.4 589.7L1303 568.3L1311.9 548.1L1320.9 529.1L1329.7 512.2L1339.2 495.7L1348.4 481.4L1356.7 470.1L1365.2 460.2L1374.4 451L1384.4 442.6L1394.1 435.6L1404.5 429.6L1416.3 424L1420.9 422.2L1425.7 420.6L1435.4 418.2L1443.3 416.6L1451.2 415.4L1460.2 414.5L1479.2 413.1L1501.2 411.9L1520.2 411.2L1537.2 411L1554.3 411.2L1572.3 411.7L1617.3 414.1L1635.3 415.4L1650.3 416.9L1664.2 418.6L1676.1 420.4L1690.8 423.5L1698.5 425.6L1706.2 428L1722.1 434L1739.5 441.8L1755.5 450L1776.4 461.9L1792.7 471.8L1818 488" fill="none" stroke="#A5A5A5" stroke-width="2.4" stroke-linecap="round" stroke-linejoin="round"/>
<path d="M1556 430L1572.5 455.2L1581.8 468.4L1604.4 496.6L1635.6 538.5L1644.5 549.4L1654.8 561.8L1673.4 582.9L1680.9 591L1688 598.1L1696.8 606.3L1713.4 621L1734 638.6" fill="none" stroke="#C00000" stroke-width="2.3" stroke-linecap="round" stroke-linejoin="round"/>
<path d="M1588 496L1652.1 587.6L1665.7 606.4L1671.9 614.3L1678.6 621.8L1685 628.3L1696 638.6" fill="none" stroke="#7F6000" stroke-width="2.3" stroke-linecap="round" stroke-linejoin="round"/>
<path d="M1110 638.6L1116 556.6L1120.9 496.7L1123.9 447.7L1125.3 433.7L1129.7 398.9L1134.9 349.1L1139.4 320.4L1144.9 270.6L1147.6 251.7L1159.3 191.7L1164.2 171.3L1170 150" fill="none" stroke="#2463A0" stroke-width="2.3" stroke-linecap="round" stroke-linejoin="round"/>
<path d="M1460 436L1498.4 490L1513.3 509L1535.4 536.4L1557.9 563.4L1579.7 588.4L1598.5 609.3L1626 638.6" fill="none" stroke="#2463A0" stroke-width="2.3" stroke-linecap="round" stroke-linejoin="round"/>
<path d="M1600 185L1619.9 188L1630.8 190L1640.6 192.2L1654.2 195.9L1664.8 199.4L1673.2 202.8L1681.3 206.7L1690 211.8L1698.3 217.5L1707.2 224L1719.9 234L1729.2 241.7L1740.4 251.8L1763.3 273.1L1799.8 307.8L1808.1 315.1L1819 324" fill="none" stroke="#ED7D31" stroke-width="2.3" stroke-linecap="round" stroke-linejoin="round"/>
<path d="M1700 156L1745.6 164.7L1757.4 167.4L1768.1 170.3L1782.4 175.1L1800.3 182.2L1808.5 186L1819 192" fill="none" stroke="#FFC000" stroke-width="2.3" stroke-linecap="round" stroke-linejoin="round"/>
<path d="M1513 636L1543.9 559.8L1567.7 503.5L1573.9 489.8L1583.9 470.1L1595.8 444.7L1601.5 433L1610.3 416.1L1618.8 400.2L1627.2 385.3L1635.9 370.7L1647.2 352.9L1672.3 315.4L1679.2 305.6L1686.6 296L1694.3 286.8L1701.8 278.7L1708.9 271.7L1717.2 264.4L1725 258.2L1733.2 252.4L1742.5 246.5L1751.2 241.5L1759.3 237.4L1767.5 233.8L1776 230.8L1784.7 228.2L1794.4 225.8L1805.2 223.5L1819 221" fill="none" stroke="#9E480E" stroke-width="2.1" stroke-linecap="round" stroke-linejoin="round"/>
<path d="M1626 638.6L1665.3 540.8L1675.4 516.7L1683.6 498.4L1692.6 479.3L1700.7 463.1L1707.8 449.9L1717.4 433.4L1730.1 412.9L1739.4 398.6L1751 382.2L1775 348.8L1791.9 326.3L1803.2 312.2L1819 294" fill="none" stroke="#636363" stroke-width="2.3" stroke-linecap="round" stroke-linejoin="round"/>
<path d="M1706 634L1718.6 608.8L1733.5 580.2L1749.3 551L1760.7 530.8L1771 513.5L1781.7 496.5L1818 442" fill="none" stroke="#70AD47" stroke-width="2.3" stroke-linecap="round" stroke-linejoin="round"/>
<path d="M1685 634L1702.1 607.9L1732.7 563L1743 549.4L1754.2 536.4L1761.2 529.1L1769.3 521.6L1777.7 514.4L1786.4 507.5L1793.7 502.2L1800.4 497.8L1818 488" fill="none" stroke="#264478" stroke-width="2.3" stroke-linecap="round" stroke-linejoin="round"/>
<path d="M1101 166L1112.9 164.5L1119.7 162.9L1123.5 161.5L1127.1 159.8L1130.5 157.8L1132.9 156L1135.9 153.3L1139 149.5L1158.7 118.1L1163.5 111.7L1169.5 104.9L1175.3 99.5L1178.5 97.1L1181.1 95.6L1183.8 94.3L1187.5 92.8L1192.3 91.4L1196.2 90.6L1202.2 90.1L1210.2 90.5L1221.1 91.7L1240 94.5L1252.8 96.6L1264.6 99L1278.3 102.1L1292.9 105.8L1308.2 110.2L1314.8 112.6L1319.4 114.6L1323.9 116.9L1328.1 119.6L1340.2 128.5L1346.4 133.5L1352.5 138.8L1367.7 153.3L1385.3 169.7L1392.7 177.8L1401.7 189.9L1410.9 203L1423.2 221.3L1444.4 254.1L1456.4 273.8L1477.1 310.4L1489.8 332L1495.7 341.3L1508.1 359.6L1514.6 369.7L1560.4 443.9L1571.3 460.7L1578.8 471.3L1597.3 495L1615.8 520L1623.1 530.8L1636.1 552.2L1641.8 560.4L1646.8 566.7L1660.5 582.7L1681.3 609.6L1706 638.6" fill="none" stroke="#C00000" stroke-width="2.2" stroke-linecap="round" stroke-linejoin="round"/><path d="M1101.2 165.8h0M1101.8 166.1h0M1102.1 166.1h0M1103 165.7h0M1103.6 165.7h0M1107 165.2h0M1107.7 165.5h0M1108.7 165h0M1109.8 164.9h0M1110.2 165.1h0M1110.6 164.8h0M1112.1 164.5h0M1112.8 164.5h0M1113.4 164.4h0M1114.9 164.1h0M1115.9 163.9h0M1117 163.5h0M1118 163.3h0M1118.8 163h0M1122.3 161.8h0M1122.7 161.8h0M1124 161.2h0M1125.2 160.9h0M1125.7 160.4h0M1126.6 160.2h0M1130 158.4h0M1130.4 158h0M1131.9 157.1h0M1133.2 156.1h0M1133.6 155.8h0M1135 154.5h0M1135.3 153.7h0M1135.9 153.4h0M1136.9 152.3h0M1140.3 147.8h0M1141.1 146.6h0M1141.5 145.7h0M1143.9 142.1h0M1143.9 141.8h0M1144.3 141.5h0M1144.3 140.9h0M1145 139.9h0M1146.3 138.2h0M1146.8 136.9h0M1148.1 134.7h0M1149.2 133.3h0M1149.8 132.6h0M1152 129.1h0M1152.4 128h0M1154.4 124.8h0M1156.8 121.2h0M1156.6 121.1h0M1159.1 118h0M1160.8 114.8h0M1163.9 111h0M1165.4 109.3h0M1167.7 106.7h0M1168.4 106.1h0M1169.2 105.5h0M1171 103.4h0M1171.5 103h0M1172.1 102.5h0M1172.8 102.1h0M1175.9 99.1h0M1177.8 97.6h0M1181.5 95.2h0M1182.2 95h0M1183.1 94.5h0M1185.4 93.7h0M1187.5 92.8h0M1188.1 92.4h0M1189.1 92.5h0M1190.2 91.9h0M1191 91.8h0M1191.2 91.9h0M1192 91.4h0M1193 91.3h0M1193.4 90.9h0M1196.8 90.4h0M1197.5 90.4h0M1198.3 90.3h0M1198.9 90.3h0M1199.3 90.3h0M1202.2 90.3h0M1205.9 90.1h0M1206.2 90.2h0M1206.9 90.3h0M1207.2 90.3h0M1208.3 90.5h0M1209.5 90.2h0M1211.4 90.5h0M1213.4 90.5h0M1214.4 90.6h0M1215.6 90.9h0M1218.1 91.4h0M1220.1 91.4h0M1221.6 91.7h0M1222 92.1h0M1222.6 91.9h0M1223.1 92h0M1225.5 92.4h0M1227.1 92.7h0M1227.6 92.6h0M1228.8 92.9h0M1231.9 93.3h0M1234.9 93.7h0M1235.5 94h0M1239.1 94.4h0M1240.2 94.6h0M1241.9 94.8h0M1243.1 95h0M1243.4 95h0M1246.6 95.7h0M1247.4 95.6h0M1248.6 95.8h0M1251 96.3h0M1251.5 96.6h0M1252.2 96.4h0M1253.5 96.6h0M1254 97h0M1254.6 97h0M1255.1 96.9h0M1258.6 97.9h0M1259.6 97.9h0M1260.5 97.9h0M1261.6 98.4h0M1262.2 98.3h0M1263.2 98.8h0M1264.6 99h0M1268.1 99.6h0M1268.8 100.1h0M1269.5 100.3h0M1270.4 100.3h0M1273.6 100.8h0M1274.2 101.2h0M1274.8 101.5h0M1275.4 101.2h0M1275.8 101.3h0M1277 101.7h0M1278.6 102h0M1281.7 102.9h0M1282.6 103.2h0M1286.2 103.9h0M1286.5 104.3h0M1290.2 104.9h0M1290.6 105.4h0M1291.5 105.4h0M1291.9 105.6h0M1292 105.5h0M1292.5 105.9h0M1295.9 106.6h0M1296.8 106.6h0M1300 107.5h0M1301.3 107.9h0M1302 108.1h0M1305 109.3h0M1308.7 110.1h0M1309.9 110.7h0M1311.2 111.3h0M1311.6 111.1h0M1314.6 112.6h0M1315.2 112.6h0M1318.1 113.9h0M1320.6 115.2h0M1321.8 115.5h0M1322.1 116.1h0M1322.6 116h0M1323.3 116.8h0M1325.2 117.5h0M1326.9 118.8h0M1327.6 119.3h0M1331.1 121.5h0M1332.1 122.3h0M1333.3 123.3h0M1333.7 123.7h0M1334.8 124.1h0M1335.8 125.2h0M1336.2 125.3h0M1337.4 126.2h0M1337.7 126.6h0M1341.4 129.2h0M1342 130h0M1342.5 130.4h0M1344.9 132.1h0M1345.9 133.3h0M1346.4 133.8h0M1349.6 136.5h0M1351.5 138.1h0M1353.2 139.3h0M1356.3 142.6h0M1359.5 145.7h0M1359.9 146.1h0M1362.2 148h0M1365.3 151.1h0M1366.4 152h0M1367.3 152.9h0M1369.1 154.7h0M1369.3 155h0M1372.9 157.9h0M1373.1 158.2h0M1374.6 159.9h0M1376 160.9h0M1376.5 161.2h0M1380 164.3h0M1380.1 164.7h0M1380.8 165.5h0M1382.8 167.3h0M1384.1 168.7h0M1385 169.4h0M1385.7 169.7h0M1386.9 171.1h0M1388.7 173.5h0M1392 177.2h0M1392.5 177.6h0M1394.5 180.4h0M1395.1 181.3h0M1395.8 181.7h0M1396.1 182.3h0M1397.2 184h0M1397.6 184.3h0M1398.4 184.9h0M1398.7 185.4h0M1398.7 185.7h0M1399.5 186.6h0M1400.8 188.5h0M1401 188.8h0M1402.3 190.5h0M1403.5 192.6h0M1404 193.4h0M1405.2 195.1h0M1406.5 196.8h0M1407.6 197.7h0M1409.3 201.1h0M1410 201.8h0M1413.3 206.4h0M1414.4 208.5h0M1416.1 210.4h0M1417.9 213.9h0M1418.9 214.7h0M1422 219.6h0M1425.4 224.8h0M1427.5 227.8h0M1428.2 228.5h0M1428.7 229.4h0M1428.7 229.8h0M1432.3 235h0M1435.5 240.2h0M1436.4 241.5h0M1437.6 243.8h0M1438.2 244.7h0M1440.2 247.8h0M1442.4 250.8h0M1443.8 253h0M1444.2 253.4h0M1445.9 256.9h0M1446.9 257.6h0M1449.9 263.1h0M1450.6 263.9h0M1452.7 267.6h0M1455.7 272.7h0M1459.1 278.4h0M1460.1 279.8h0M1461.3 282.4h0M1462.7 284.8h0M1464.1 287.1h0M1465.9 291h0M1466.8 292.6h0M1467.9 294.4h0M1468.6 295.7h0M1470.9 299.4h0M1471.3 300.3h0M1473.2 303.7h0M1475.7 307.5h0M1476.1 308.7h0M1477.2 310.3h0M1478 311.9h0M1479.4 314.3h0M1480 315.1h0M1479.9 315.6h0M1483.7 321.6h0M1486.6 327h0M1490 332.6h0M1490.4 333.2h0M1491.3 334.6h0M1492.7 336.8h0M1493.8 338.5h0M1495.2 340.7h0M1496.4 342.2h0M1497.3 343.6h0M1498.4 345.1h0M1498.7 345.6h0M1498.9 346.3h0M1500.2 347.7h0M1502.4 350.8h0M1502.4 351.6h0M1503.3 352.9h0M1504 353.9h0M1504.7 354h0M1504.8 354.5h0M1505.6 355.7h0M1506 356.8h0M1507.6 358.8h0M1508.8 361h0M1510.1 362.2h0M1513.3 367.6h0M1513.4 367.7h0M1514.6 369.7h0M1515.4 371.1h0M1517.5 374.5h0M1518.7 375.7h0M1519.5 377.6h0M1521.5 380.5h0M1524.8 386h0M1528 391.5h0M1528.8 392.3h0M1530.9 396h0M1531 396.3h0M1532.2 397.8h0M1533.5 399.9h0M1533.6 400.4h0M1536.8 405.9h0M1537.6 407.1h0M1539.2 409.1h0M1539.8 410.3h0M1540.3 411.2h0M1540.9 412.2h0M1541.8 413.3h0M1544.9 418.9h0M1545.4 419.5h0M1545.7 419.9h0M1547.1 422.3h0M1547.4 423.3h0M1548.2 424.3h0M1549.1 425.8h0M1550.5 427.8h0M1553.9 433.1h0M1554.5 434.2h0M1557.8 439.5h0M1558.8 441.2h0M1560.9 444.9h0M1561.6 445.7h0M1562.7 447h0M1564.2 450.2h0M1565.3 451.8h0M1566.4 453.5h0M1566.8 453.9h0M1568.7 456.8h0M1570.7 460.1h0M1571.3 460.9h0M1571.9 461.6h0M1572.5 462.8h0M1574.6 465.7h0M1574.8 466.4h0M1575.5 466.4h0M1575.7 466.8h0M1576.3 468h0M1577.9 469.9h0M1578.3 470.6h0M1581.4 474.8h0M1584.8 479h0M1585.1 479.6h0M1586.6 481.3h0M1587.9 483.3h0M1589.7 485.6h0M1590.4 486.3h0M1590.8 486.8h0M1592.7 489.4h0M1593.3 489.8h0M1596.5 493.9h0M1597.9 495.8h0M1598.7 496.8h0M1600.2 498.7h0M1600.6 499.6h0M1602.9 502.6h0M1603.9 503.5h0M1604.5 504.4h0M1605.1 505.4h0M1605.7 506h0M1605.7 506.3h0M1606.4 507.2h0M1607.1 508.1h0M1607.6 508.7h0M1611.1 513.2h0M1611.4 514.1h0M1611.8 514.5h0M1612.9 515.7h0M1614 517.3h0M1615.3 519.4h0M1615.9 519.8h0M1618.9 524.5h0M1622 529.3h0M1624.2 532.8h0M1624.7 533.7h0M1625.6 535h0M1629.2 540.3h0M1629.2 541.3h0M1631.7 544.4h0M1632.2 545.9h0M1635.5 551.1h0M1635.7 551.5h0M1636.5 552.8h0M1637.4 553.9h0M1639.4 557.2h0M1639.9 557.9h0M1640.7 558.9h0M1641.7 560.5h0M1643.3 562.3h0M1643.8 563.2h0M1644.2 563.7h0M1644.6 563.9h0M1647.7 567.7h0M1651.4 571.9h0M1652.3 573.1h0M1653 573.6h0M1655.1 576.5h0M1656.2 577.6h0M1656.9 578.1h0M1657.3 579h0M1659 580.5h0M1659.5 581.6h0M1660 582.3h0M1660.7 583.2h0M1662.3 584.9h0M1663.5 586.5h0M1664.2 587.9h0M1665.4 588.7h0M1666.2 589.9h0M1669.3 594.3h0M1671.7 597.5h0M1675 601.7h0M1678.2 605.9h0M1679.1 607.1h0M1679.6 607.2h0M1681 608.9h0M1681.2 609.5h0M1681.7 609.6h0M1684.9 613.9h0M1686.1 615.8h0M1686.8 616.5h0M1688.7 618.3h0M1690.7 620.6h0M1691 620.9h0M1694.3 624.9h0M1694.7 625.5h0M1697.8 629.1h0M1699.9 631.6h0M1702.5 634.2h0M1703.1 635.2h0M1704.5 637h0" fill="none" stroke="#C00000" stroke-width="7.8" stroke-linecap="round"/>
<path d="M1101 136.4L1108.9 135.2L1113.9 135.2L1118.8 136.1L1125.4 138.2L1134.7 142.1L1144.5 147.1L1152.4 151.4L1165.2 159.3L1170.5 162.1L1178.8 165.6L1188.4 168.5L1197.2 170.3L1222 173.8L1256.7 179.3L1286.3 184.5L1299 187.3L1312.6 190.7L1326.1 194.6L1340.4 199L1350.8 202.7L1360 206.6L1371.8 212.1L1383.4 218L1392.1 223L1406.4 232.2L1413 236.8L1419.3 241.9L1428.7 250.8L1440.3 263.3L1452.4 278L1460.1 288.5L1488.7 332L1507.1 359.5L1519.9 379.9L1536 406.4L1563.6 453L1571.6 466.9L1583.2 487.9L1589.4 498.2L1595 506.5L1611.6 530.4L1645 580.4L1652.1 591.3L1670.2 620.2L1676 628.3L1684 638.6" fill="none" stroke="#7F6000" stroke-width="2.2" stroke-linecap="round" stroke-linejoin="round"/><path d="M1101.2 136.6h0M1101.9 136.4h0M1103 135.9h0M1103.8 136h0M1105.3 135.8h0M1106.3 135.6h0M1108.2 135.2h0M1111.7 135.2h0M1112.2 135.3h0M1115.5 135.6h0M1116.7 135.4h0M1117.3 135.9h0M1120.2 136.4h0M1122.4 137.2h0M1122.8 137.6h0M1124 137.7h0M1124.3 137.9h0M1125.8 138.4h0M1127 138.6h0M1127.9 139.3h0M1131.1 140.5h0M1131.5 141h0M1135 142.1h0M1136.4 143.2h0M1138.5 144.1h0M1141.7 145.9h0M1144 146.7h0M1144.9 147.4h0M1145.4 147.4h0M1146 147.8h0M1148.9 149.7h0M1151.1 150.7h0M1151.9 151.3h0M1153.8 152.4h0M1154.3 152.8h0M1156 153.6h0M1156.4 153.8h0M1156.7 154h0M1157.3 154.3h0M1158.3 155.2h0M1158.8 155.5h0M1159.7 155.7h0M1161 156.8h0M1163.2 158.3h0M1163.9 158.4h0M1164.4 158.7h0M1165.1 159.2h0M1166.1 159.8h0M1169.3 161.5h0M1170.2 161.7h0M1171 162.2h0M1171.3 162.4h0M1172.8 163.1h0M1173 163.1h0M1173.6 163.8h0M1174.3 164h0M1176.4 164.5h0M1179.7 166h0M1183.2 166.8h0M1186.4 167.8h0M1187.1 168.2h0M1187.6 168.3h0M1188.5 168.4h0M1189.7 169h0M1190.2 169h0M1191.3 169.3h0M1192.7 169.4h0M1196.1 170.3h0M1196.8 170.3h0M1199.1 170.6h0M1199.8 170.8h0M1200.9 170.8h0M1201.6 170.8h0M1202.1 171h0M1203.8 171.2h0M1206.9 171.7h0M1207.5 171.7h0M1207.8 171.6h0M1210 172.1h0M1211 172.1h0M1211.7 172.1h0M1213 172.3h0M1214.5 172.7h0M1216 173h0M1216.7 173h0M1217.3 173.2h0M1220.6 173.7h0M1222.6 173.9h0M1224.7 174.4h0M1225.6 174.1h0M1226.2 174.4h0M1228.7 175h0M1229 174.8h0M1230.2 175h0M1231.1 175.3h0M1234.3 175.5h0M1235.5 175.8h0M1237.9 176.4h0M1238.9 176.3h0M1241.8 176.7h0M1242.5 176.9h0M1243 177h0M1243.7 177h0M1244.7 177.1h0M1246.2 177.7h0M1248.2 177.7h0M1249.5 178.1h0M1251.7 178.4h0M1252.4 178.4h0M1252.5 178.6h0M1253.3 178.8h0M1253.6 178.6h0M1256.9 179.4h0M1257.8 179.7h0M1259.1 179.4h0M1260.3 180h0M1260.9 179.9h0M1263.3 180.3h0M1266.5 180.8h0M1267 180.7h0M1267.9 181.3h0M1268.3 181.4h0M1268.9 181.3h0M1271.2 181.5h0M1271.3 181.8h0M1274.6 182.3h0M1275.6 182.6h0M1276.7 182.8h0M1279 183.2h0M1282.4 183.6h0M1282.9 184h0M1284.4 184h0M1284.9 184.3h0M1285.3 184.4h0M1286.1 184.5h0M1289.4 185.3h0M1291.2 185.6h0M1291.7 185.9h0M1293.1 185.8h0M1295.7 186.7h0M1296.8 186.8h0M1300.2 187.5h0M1301.6 187.8h0M1303.2 188.4h0M1303.6 188.3h0M1304.5 188.7h0M1305.1 189h0M1307.2 189.5h0M1308.7 189.6h0M1312.1 190.7h0M1315.6 191.7h0M1315.7 191.5h0M1317.6 191.8h0M1320.6 192.7h0M1321.9 193.3h0M1323.6 193.6h0M1325.8 194.3h0M1327.1 194.7h0M1328.4 195.2h0M1329.6 195.6h0M1333.1 196.5h0M1333.6 196.7h0M1336.9 197.8h0M1337.4 198.1h0M1339.5 198.9h0M1340.4 199.3h0M1343.8 200.3h0M1344.4 200.2h0M1344.7 200.5h0M1345.2 200.6h0M1345.6 200.7h0M1346.3 200.9h0M1346.5 201.1h0M1347.4 201.4h0M1348 201.8h0M1348.1 202h0M1348.7 201.7h0M1349.5 202h0M1350.7 202.7h0M1351.4 202.9h0M1352 203.1h0M1352.3 203.2h0M1353.3 203.6h0M1354.7 204.1h0M1355 204.3h0M1355.9 205h0M1359 205.9h0M1359.5 206.1h0M1360 206.8h0M1362.1 207.5h0M1362.7 207.7h0M1363.2 208h0M1363.8 208.6h0M1366.2 209.3h0M1369.3 211.1h0M1371.4 211.7h0M1372.6 212.6h0M1373.9 213h0M1374.4 213.4h0M1377.4 214.7h0M1378.8 215.5h0M1379.9 216.2h0M1382.3 217.3h0M1385.3 219.3h0M1386 219.3h0M1386.3 219.7h0M1386.6 220.1h0M1387.4 220.2h0M1389 221.2h0M1389.7 221.7h0M1392.6 223.5h0M1394.8 224.6h0M1395.5 225.2h0M1397.6 226.4h0M1400.9 228.4h0M1401.9 229.2h0M1402.5 229.8h0M1402.7 229.7h0M1405 231.4h0M1406.7 232.4h0M1407.2 232.8h0M1407.6 232.7h0M1410.6 235.4h0M1411.2 235.8h0M1411.8 235.9h0M1412.3 236.2h0M1412.6 236.3h0M1413.3 237h0M1414.5 237.9h0M1415.8 239h0M1419.4 242h0M1419.6 242.1h0M1423.1 245.1h0M1423.4 245.5h0M1425.4 247.7h0M1426.7 248.9h0M1428.3 250.6h0M1430.2 252.6h0M1433.9 256.2h0M1435.1 257.4h0M1435.2 258.1h0M1437.6 260.2h0M1438.8 261.7h0M1440.8 264h0M1442.1 265.2h0M1444.2 267.8h0M1444.4 268.4h0M1446.6 270.8h0M1448.5 273.3h0M1448.9 273.6h0M1452.4 278h0M1453 278.3h0M1456.1 283h0M1457.7 284.4h0M1459.6 288h0M1460.8 289.2h0M1462.7 292.5h0M1463.6 293.8h0M1464.2 294.8h0M1464.9 295.4h0M1465.4 297h0M1469 301.8h0M1469.8 303.5h0M1470.3 304h0M1473.3 308.7h0M1474.3 309.7h0M1475.3 311.8h0M1476.2 312.9h0M1476.4 313h0M1476.5 313.7h0M1478.8 317.2h0M1480.4 319h0M1482.3 322.2h0M1482.8 322.8h0M1485.9 327.5h0M1489.2 332.9h0M1490.3 334.7h0M1492.8 338h0M1493.6 339.3h0M1494.1 340.2h0M1494.3 340.2h0M1494.7 340.6h0M1495.3 341.7h0M1497.4 345.1h0M1499.2 348.2h0M1502.6 352.8h0M1506.1 357.8h0M1506.5 358.3h0M1508.5 361.6h0M1510.4 364.7h0M1513.5 369.9h0M1515.8 372.9h0M1516.4 374h0M1516.9 375h0M1517.5 375.6h0M1517.9 376.7h0M1518 377.2h0M1519.5 379h0M1521.6 382.5h0M1524.7 388h0M1525.9 390.3h0M1526.3 390.6h0M1526.6 391h0M1527.8 392.4h0M1528.5 394.1h0M1528.8 394.1h0M1529.2 394.5h0M1529.3 395h0M1530.9 397.7h0M1531.3 398.4h0M1532.3 400h0M1532.2 400.4h0M1534.4 403.8h0M1536.4 407.4h0M1537.7 409h0M1538 409.5h0M1538.8 410.6h0M1539.8 412.5h0M1540.1 413.4h0M1542.5 416.9h0M1544.5 420.5h0M1547.4 426h0M1548.6 427.7h0M1549.3 428.3h0M1550.8 430.9h0M1551.4 432.8h0M1552.2 433.5h0M1552.5 434.3h0M1553.5 436h0M1554.5 437.7h0M1554.7 438h0M1557 441.8h0M1560.2 447.2h0M1562.1 450.4h0M1562.7 451.4h0M1563.9 454h0M1565.8 456.4h0M1566.8 458.5h0M1568.4 460.9h0M1569.2 462.5h0M1569.8 463.5h0M1570.8 465.8h0M1571.7 466.7h0M1573 469.4h0M1573.3 470.1h0M1574.7 472.5h0M1575.1 473.2h0M1577.4 477.2h0M1580.4 483.1h0M1582.4 486.5h0M1583.4 488.3h0M1584.2 489.4h0M1585.3 491.7h0M1586.2 492.9h0M1586.7 493.7h0M1587.4 495.2h0M1588.3 496.8h0M1589.8 498.8h0M1590.4 499.6h0M1592.6 502.6h0M1593.9 504.8h0M1595.8 508h0M1599.2 512.6h0M1600.9 514.7h0M1601.1 515.3h0M1602 516.7h0M1602.2 517.1h0M1602.8 517.2h0M1603.9 519.3h0M1605.5 521.4h0M1605.8 521.9h0M1607.4 523.8h0M1608.3 525.5h0M1610.4 528.5h0M1611.1 529.3h0M1611.1 529.7h0M1611.4 530.6h0M1612.3 531.6h0M1613.9 533.3h0M1614.5 534.5h0M1614.7 534.9h0M1616.8 538.3h0M1617.4 538.8h0M1619.5 541.8h0M1620.6 543.9h0M1624 549.2h0M1624.5 549.5h0M1625.2 550.7h0M1625.8 552.1h0M1629.3 556.9h0M1630.5 558.2h0M1631 559.5h0M1632.2 561.4h0M1632.5 562.2h0M1632.9 562.6h0M1633.8 563.9h0M1635.2 565.9h0M1637 567.8h0M1636.9 568.6h0M1639.2 571.9h0M1642.2 576.5h0M1644.4 579.7h0M1645.5 581.3h0M1645.8 581.7h0M1646.3 582.1h0M1649.3 587h0M1650 587.8h0M1650.1 588.2h0M1650.6 588.5h0M1653.6 593.6h0M1654.5 595h0M1655.2 596.2h0M1658.3 601.7h0M1659 602.5h0M1660 603.6h0M1660.2 604.4h0M1660.6 605.2h0M1663.7 610.6h0M1664.2 610.9h0M1664.7 612.1h0M1665.3 612.9h0M1665.6 613.4h0M1667.5 616.5h0M1668.2 617.4h0M1669.9 619.5h0M1671.8 622.9h0M1673.9 625.6h0M1675.9 628.4h0M1679 632.4h0M1680 633.5h0M1681.9 635.7h0M1683.6 638.6h0" fill="none" stroke="#7F6000" stroke-width="7.8" stroke-linecap="round"/>
<g fill="none" stroke="#4472C4" stroke-width="1.9"><circle cx="1107.8" cy="628.6" r="2.7"/><circle cx="1109.2" cy="615.3" r="2.7"/><circle cx="1111.7" cy="586.3" r="2.7"/><circle cx="1113.9" cy="556.3" r="2.7"/><circle cx="1115.9" cy="526.2" r="2.7"/><circle cx="1118" cy="496.1" r="2.7"/><circle cx="1118.4" cy="489.3" r="2.7"/><circle cx="1119.3" cy="482.2" r="2.7"/><circle cx="1121" cy="464.6" r="2.7"/><circle cx="1122.8" cy="441.9" r="2.7"/><circle cx="1125" cy="411.8" r="2.7"/><circle cx="1125.7" cy="404.3" r="2.7"/><circle cx="1127.5" cy="384.7" r="2.7"/><circle cx="1130.3" cy="362.2" r="2.7"/><circle cx="1131.8" cy="348.2" r="2.7"/><circle cx="1134.3" cy="327.8" r="2.7"/><circle cx="1136.5" cy="312.7" r="2.7"/><circle cx="1138" cy="298.8" r="2.7"/><circle cx="1141" cy="281.5" r="2.7"/><circle cx="1141.5" cy="277.6" r="2.7"/><circle cx="1142.5" cy="270.4" r="2.7"/><circle cx="1144.4" cy="259.5" r="2.7"/><circle cx="1147.9" cy="241.4" r="2.7"/><circle cx="1148.3" cy="238.1" r="2.7"/><circle cx="1151.7" cy="219.7" r="2.7"/><circle cx="1155.5" cy="201.9" r="2.7"/><circle cx="1157.7" cy="189.3" r="2.7"/><circle cx="1161.3" cy="174.9" r="2.7"/><circle cx="1164.7" cy="162.5" r="2.7"/><circle cx="1165.3" cy="160.1" r="2.7"/><circle cx="1166.2" cy="157.8" r="2.7"/></g>
<path d="M1166 158L1170.1 148.9L1173.5 142.7L1177.5 137L1179.5 134.8L1181.7 132.8L1184.1 131.1L1187.6 129.2L1190.4 128L1194.2 126.8L1200.1 125.8L1203.1 125.7L1207 126.1L1214.9 127.7L1234.2 132.9L1241.8 135.6L1248 138.7L1253.1 141.8L1268 152L1275.6 156.8L1278.1 158.6L1284.6 164.7L1295.5 176.5L1305.9 188.7L1315.9 201.2L1324.4 212.4L1331.7 223.2L1336.4 230.9L1346.7 249.2L1351.8 257.8L1359.4 269.6L1376.2 294.5L1383.2 305.5L1410.8 350.9L1427.8 379.3L1447.9 413.9L1459.2 434.1L1479.9 466L1496.4 493.5L1503.6 504.3L1521.8 530.7L1553.6 578.2L1562.3 591.6L1579.8 619.7L1593 638.6" fill="none" stroke="#4472C4" stroke-width="2" stroke-linecap="round" stroke-linejoin="round"/>
<g fill="none" stroke="#4472C4" stroke-width="2.0"><circle cx="1166.1" cy="157.8" r="2.8"/><circle cx="1166.3" cy="157.3" r="2.8"/><circle cx="1167" cy="155.8" r="2.8"/><circle cx="1169.4" cy="150.4" r="2.8"/><circle cx="1169.8" cy="149.3" r="2.8"/><circle cx="1171.7" cy="146" r="2.8"/><circle cx="1172.2" cy="145.1" r="2.8"/><circle cx="1172.5" cy="144.2" r="2.8"/><circle cx="1174" cy="141.8" r="2.8"/><circle cx="1174.7" cy="140.7" r="2.8"/><circle cx="1175.3" cy="140.2" r="2.8"/><circle cx="1176.7" cy="138.1" r="2.8"/><circle cx="1177.2" cy="137.5" r="2.8"/><circle cx="1178.9" cy="135.5" r="2.8"/><circle cx="1179.8" cy="134.3" r="2.8"/><circle cx="1181.4" cy="133" r="2.8"/><circle cx="1181.6" cy="132.9" r="2.8"/><circle cx="1182" cy="132.3" r="2.8"/><circle cx="1184.7" cy="130.7" r="2.8"/><circle cx="1185.1" cy="130.4" r="2.8"/><circle cx="1185.7" cy="129.9" r="2.8"/><circle cx="1187.5" cy="129.2" r="2.8"/><circle cx="1189" cy="128.7" r="2.8"/><circle cx="1191.5" cy="127.8" r="2.8"/><circle cx="1192.4" cy="127.2" r="2.8"/><circle cx="1193" cy="127.1" r="2.8"/><circle cx="1194.6" cy="126.5" r="2.8"/><circle cx="1196.6" cy="126.4" r="2.8"/><circle cx="1197.4" cy="125.9" r="2.8"/><circle cx="1198.1" cy="126" r="2.8"/><circle cx="1199.4" cy="125.9" r="2.8"/><circle cx="1201.7" cy="125.8" r="2.8"/><circle cx="1202.1" cy="125.8" r="2.8"/><circle cx="1203.4" cy="125.9" r="2.8"/><circle cx="1204.6" cy="126" r="2.8"/><circle cx="1205.2" cy="126" r="2.8"/><circle cx="1206.3" cy="126.2" r="2.8"/><circle cx="1208.1" cy="126.3" r="2.8"/><circle cx="1210.8" cy="126.5" r="2.8"/><circle cx="1211.7" cy="127.1" r="2.8"/><circle cx="1214.5" cy="127.4" r="2.8"/><circle cx="1215.6" cy="127.6" r="2.8"/><circle cx="1217.7" cy="128.4" r="2.8"/><circle cx="1220.5" cy="129.2" r="2.8"/><circle cx="1221.8" cy="129.4" r="2.8"/><circle cx="1222.8" cy="129.8" r="2.8"/><circle cx="1224.5" cy="130.2" r="2.8"/><circle cx="1226.9" cy="131.1" r="2.8"/><circle cx="1228.3" cy="131.2" r="2.8"/><circle cx="1229.8" cy="131.5" r="2.8"/><circle cx="1230.7" cy="131.9" r="2.8"/><circle cx="1231.1" cy="132" r="2.8"/><circle cx="1233.4" cy="132.7" r="2.8"/><circle cx="1234.2" cy="133.1" r="2.8"/><circle cx="1235" cy="133.3" r="2.8"/><circle cx="1237.5" cy="133.8" r="2.8"/><circle cx="1237.7" cy="134.2" r="2.8"/><circle cx="1240.5" cy="135.1" r="2.8"/><circle cx="1240.7" cy="135.2" r="2.8"/><circle cx="1241.8" cy="135.4" r="2.8"/><circle cx="1243" cy="136.2" r="2.8"/><circle cx="1244.3" cy="136.8" r="2.8"/><circle cx="1244.8" cy="137.1" r="2.8"/><circle cx="1247.1" cy="137.9" r="2.8"/><circle cx="1248.2" cy="139" r="2.8"/><circle cx="1249.3" cy="139.5" r="2.8"/><circle cx="1251.6" cy="141.1" r="2.8"/><circle cx="1252.4" cy="141.5" r="2.8"/><circle cx="1252.6" cy="141.5" r="2.8"/><circle cx="1253.4" cy="142.3" r="2.8"/><circle cx="1254.7" cy="142.6" r="2.8"/><circle cx="1255.3" cy="143.2" r="2.8"/><circle cx="1257.4" cy="145" r="2.8"/><circle cx="1257.8" cy="145.2" r="2.8"/><circle cx="1258.9" cy="145.8" r="2.8"/><circle cx="1259.4" cy="146.1" r="2.8"/><circle cx="1260.5" cy="147" r="2.8"/><circle cx="1261.1" cy="147.4" r="2.8"/><circle cx="1262.2" cy="147.9" r="2.8"/><circle cx="1264.8" cy="149.7" r="2.8"/><circle cx="1267.2" cy="151.5" r="2.8"/><circle cx="1268.8" cy="152.3" r="2.8"/><circle cx="1270.6" cy="153.5" r="2.8"/><circle cx="1272" cy="154.6" r="2.8"/><circle cx="1273.8" cy="155.6" r="2.8"/><circle cx="1274.6" cy="155.9" r="2.8"/><circle cx="1276.1" cy="156.9" r="2.8"/><circle cx="1278.9" cy="158.8" r="2.8"/><circle cx="1279.5" cy="159.8" r="2.8"/><circle cx="1279.8" cy="160.1" r="2.8"/><circle cx="1281.6" cy="161.5" r="2.8"/><circle cx="1281.9" cy="162.3" r="2.8"/><circle cx="1282.9" cy="163.1" r="2.8"/><circle cx="1283.9" cy="163.8" r="2.8"/><circle cx="1286.2" cy="166.4" r="2.8"/><circle cx="1288.3" cy="168.5" r="2.8"/><circle cx="1289.5" cy="170.4" r="2.8"/><circle cx="1290" cy="170.4" r="2.8"/><circle cx="1291.7" cy="171.8" r="2.8"/><circle cx="1291.7" cy="172.8" r="2.8"/><circle cx="1292.3" cy="172.9" r="2.8"/><circle cx="1293.5" cy="174.3" r="2.8"/><circle cx="1295.2" cy="176.2" r="2.8"/><circle cx="1296.1" cy="177.1" r="2.8"/><circle cx="1296.2" cy="177.5" r="2.8"/><circle cx="1296.6" cy="177.9" r="2.8"/><circle cx="1297.3" cy="178.8" r="2.8"/><circle cx="1298.3" cy="179.9" r="2.8"/><circle cx="1299" cy="180.5" r="2.8"/><circle cx="1301.4" cy="183.5" r="2.8"/><circle cx="1302.9" cy="185.2" r="2.8"/><circle cx="1303.8" cy="186.2" r="2.8"/><circle cx="1306.1" cy="189.1" r="2.8"/><circle cx="1307.7" cy="190.8" r="2.8"/><circle cx="1309.3" cy="192.9" r="2.8"/><circle cx="1309.7" cy="193.4" r="2.8"/><circle cx="1310.1" cy="193.7" r="2.8"/><circle cx="1312.6" cy="196.9" r="2.8"/><circle cx="1315.4" cy="200" r="2.8"/><circle cx="1316.1" cy="201.3" r="2.8"/><circle cx="1317" cy="202.6" r="2.8"/><circle cx="1319.4" cy="205.6" r="2.8"/><circle cx="1320.2" cy="206.8" r="2.8"/><circle cx="1321.5" cy="208.7" r="2.8"/><circle cx="1322.1" cy="209.5" r="2.8"/><circle cx="1322.9" cy="210.6" r="2.8"/><circle cx="1324.3" cy="212.1" r="2.8"/><circle cx="1325.2" cy="213.6" r="2.8"/><circle cx="1327.5" cy="216.9" r="2.8"/><circle cx="1328.1" cy="218.1" r="2.8"/><circle cx="1329.1" cy="219.3" r="2.8"/><circle cx="1330.3" cy="221" r="2.8"/><circle cx="1331.1" cy="222" r="2.8"/><circle cx="1332" cy="223.8" r="2.8"/><circle cx="1332.8" cy="224.5" r="2.8"/><circle cx="1334.1" cy="226.7" r="2.8"/><circle cx="1334.3" cy="227.1" r="2.8"/><circle cx="1334.6" cy="228" r="2.8"/><circle cx="1336.6" cy="230.8" r="2.8"/><circle cx="1338.3" cy="233.9" r="2.8"/><circle cx="1338.5" cy="234.7" r="2.8"/><circle cx="1341.4" cy="239.3" r="2.8"/><circle cx="1341.3" cy="239.9" r="2.8"/><circle cx="1343.4" cy="242.9" r="2.8"/><circle cx="1345.8" cy="247.2" r="2.8"/><circle cx="1346.1" cy="247.9" r="2.8"/><circle cx="1346.8" cy="249" r="2.8"/><circle cx="1348.1" cy="251.2" r="2.8"/><circle cx="1350.3" cy="255.5" r="2.8"/><circle cx="1350.7" cy="256" r="2.8"/><circle cx="1351.1" cy="256.6" r="2.8"/><circle cx="1351.5" cy="257.8" r="2.8"/><circle cx="1354" cy="261.6" r="2.8"/><circle cx="1355.3" cy="263.5" r="2.8"/><circle cx="1356.2" cy="264.6" r="2.8"/><circle cx="1357.5" cy="266.6" r="2.8"/><circle cx="1360" cy="270.3" r="2.8"/><circle cx="1361.2" cy="272.2" r="2.8"/><circle cx="1362.4" cy="273.6" r="2.8"/><circle cx="1363.4" cy="275.5" r="2.8"/><circle cx="1364.3" cy="276.3" r="2.8"/><circle cx="1366.8" cy="280.2" r="2.8"/><circle cx="1367.1" cy="281" r="2.8"/><circle cx="1368.1" cy="282.3" r="2.8"/><circle cx="1368.4" cy="283" r="2.8"/><circle cx="1369.7" cy="285.2" r="2.8"/><circle cx="1370.3" cy="285.7" r="2.8"/><circle cx="1373" cy="289.5" r="2.8"/><circle cx="1373.3" cy="290.3" r="2.8"/><circle cx="1374.2" cy="291.5" r="2.8"/><circle cx="1374.7" cy="292" r="2.8"/><circle cx="1374.9" cy="293.2" r="2.8"/><circle cx="1377.7" cy="296.6" r="2.8"/><circle cx="1378.6" cy="297.9" r="2.8"/><circle cx="1378.8" cy="298.5" r="2.8"/><circle cx="1380.3" cy="301.2" r="2.8"/><circle cx="1380.8" cy="301.5" r="2.8"/><circle cx="1382.4" cy="304.5" r="2.8"/><circle cx="1384.5" cy="307.3" r="2.8"/><circle cx="1384.6" cy="307.8" r="2.8"/><circle cx="1387.4" cy="312" r="2.8"/><circle cx="1387.9" cy="313.3" r="2.8"/><circle cx="1389.1" cy="315.5" r="2.8"/><circle cx="1391.8" cy="319.7" r="2.8"/><circle cx="1392" cy="320.4" r="2.8"/><circle cx="1393.7" cy="323.3" r="2.8"/><circle cx="1396.3" cy="327" r="2.8"/><circle cx="1398.1" cy="329.7" r="2.8"/><circle cx="1398.9" cy="331.4" r="2.8"/><circle cx="1399.3" cy="332.4" r="2.8"/><circle cx="1401.7" cy="336.5" r="2.8"/><circle cx="1403.3" cy="338.3" r="2.8"/><circle cx="1403.6" cy="339.2" r="2.8"/><circle cx="1404.2" cy="339.6" r="2.8"/><circle cx="1406.6" cy="343.7" r="2.8"/><circle cx="1408.9" cy="347.8" r="2.8"/><circle cx="1411.5" cy="352" r="2.8"/><circle cx="1412.1" cy="352.7" r="2.8"/><circle cx="1412.9" cy="354.2" r="2.8"/><circle cx="1415" cy="358.3" r="2.8"/><circle cx="1415.8" cy="358.9" r="2.8"/><circle cx="1416.6" cy="360.3" r="2.8"/><circle cx="1416.7" cy="360.7" r="2.8"/><circle cx="1418.5" cy="363.6" r="2.8"/><circle cx="1418.9" cy="364.4" r="2.8"/><circle cx="1419.4" cy="365.3" r="2.8"/><circle cx="1419.9" cy="366.3" r="2.8"/><circle cx="1420.6" cy="366.8" r="2.8"/><circle cx="1420.8" cy="367.6" r="2.8"/><circle cx="1421.5" cy="369" r="2.8"/><circle cx="1423.2" cy="371.4" r="2.8"/><circle cx="1425.4" cy="375.5" r="2.8"/><circle cx="1426" cy="376.2" r="2.8"/><circle cx="1426.3" cy="376.7" r="2.8"/><circle cx="1427.4" cy="378.2" r="2.8"/><circle cx="1427.7" cy="379.4" r="2.8"/><circle cx="1428.6" cy="380.6" r="2.8"/><circle cx="1430" cy="382.8" r="2.8"/><circle cx="1431.3" cy="385.2" r="2.8"/><circle cx="1431.5" cy="386" r="2.8"/><circle cx="1432.2" cy="386.6" r="2.8"/><circle cx="1432.4" cy="387.6" r="2.8"/><circle cx="1433.3" cy="389" r="2.8"/><circle cx="1436" cy="393.4" r="2.8"/><circle cx="1436.7" cy="394.8" r="2.8"/><circle cx="1437.5" cy="395.3" r="2.8"/><circle cx="1438.6" cy="397.8" r="2.8"/><circle cx="1438.8" cy="398.5" r="2.8"/><circle cx="1439.3" cy="399.1" r="2.8"/><circle cx="1441.9" cy="403.6" r="2.8"/><circle cx="1443.5" cy="406.1" r="2.8"/><circle cx="1445.9" cy="410.5" r="2.8"/><circle cx="1446.4" cy="411.8" r="2.8"/><circle cx="1447.2" cy="412.9" r="2.8"/><circle cx="1448.1" cy="414.1" r="2.8"/><circle cx="1448.7" cy="415.1" r="2.8"/><circle cx="1449.8" cy="417.3" r="2.8"/><circle cx="1451.7" cy="420.6" r="2.8"/><circle cx="1452.1" cy="421.9" r="2.8"/><circle cx="1453.8" cy="424.3" r="2.8"/><circle cx="1456" cy="428.6" r="2.8"/><circle cx="1456.7" cy="430.4" r="2.8"/><circle cx="1457.8" cy="431.6" r="2.8"/><circle cx="1460.5" cy="435.8" r="2.8"/><circle cx="1461.4" cy="437.9" r="2.8"/><circle cx="1463.8" cy="441.9" r="2.8"/><circle cx="1464.3" cy="442.3" r="2.8"/><circle cx="1465.2" cy="443.7" r="2.8"/><circle cx="1466.8" cy="446.3" r="2.8"/><circle cx="1467.6" cy="447.5" r="2.8"/><circle cx="1468.3" cy="448" r="2.8"/><circle cx="1469.1" cy="449.1" r="2.8"/><circle cx="1471.4" cy="453" r="2.8"/><circle cx="1473" cy="455.4" r="2.8"/><circle cx="1474.3" cy="457.1" r="2.8"/><circle cx="1475.4" cy="458.9" r="2.8"/><circle cx="1476" cy="459.8" r="2.8"/><circle cx="1477.5" cy="462.3" r="2.8"/><circle cx="1478.6" cy="463.9" r="2.8"/><circle cx="1479.2" cy="464.6" r="2.8"/><circle cx="1481.1" cy="467.6" r="2.8"/><circle cx="1481.1" cy="468.1" r="2.8"/><circle cx="1482.8" cy="470.9" r="2.8"/><circle cx="1484.2" cy="473.2" r="2.8"/><circle cx="1485.7" cy="475.8" r="2.8"/><circle cx="1486.5" cy="476.7" r="2.8"/><circle cx="1486.9" cy="477" r="2.8"/><circle cx="1487.3" cy="478" r="2.8"/><circle cx="1488.2" cy="480.4" r="2.8"/><circle cx="1489.2" cy="481.2" r="2.8"/><circle cx="1489.7" cy="482.7" r="2.8"/><circle cx="1490.5" cy="483.6" r="2.8"/><circle cx="1491.4" cy="485.5" r="2.8"/><circle cx="1492.2" cy="486.5" r="2.8"/><circle cx="1493.9" cy="489.2" r="2.8"/><circle cx="1494.1" cy="490" r="2.8"/><circle cx="1495.6" cy="492.1" r="2.8"/><circle cx="1496" cy="493" r="2.8"/><circle cx="1497.7" cy="495.5" r="2.8"/><circle cx="1498" cy="496.1" r="2.8"/><circle cx="1499" cy="497.7" r="2.8"/><circle cx="1499.7" cy="498.6" r="2.8"/><circle cx="1501.2" cy="501" r="2.8"/><circle cx="1504" cy="505.1" r="2.8"/><circle cx="1505.2" cy="506.6" r="2.8"/><circle cx="1506.3" cy="508.4" r="2.8"/><circle cx="1508.5" cy="511.2" r="2.8"/><circle cx="1508.8" cy="511.7" r="2.8"/><circle cx="1509.2" cy="512.5" r="2.8"/><circle cx="1511" cy="515" r="2.8"/><circle cx="1511.6" cy="515.8" r="2.8"/><circle cx="1512.3" cy="517" r="2.8"/><circle cx="1513.6" cy="518.8" r="2.8"/><circle cx="1516" cy="522.4" r="2.8"/><circle cx="1516.9" cy="523.6" r="2.8"/><circle cx="1517.6" cy="524.1" r="2.8"/><circle cx="1517.7" cy="524.7" r="2.8"/><circle cx="1518.4" cy="525.7" r="2.8"/><circle cx="1521.1" cy="529.6" r="2.8"/><circle cx="1522" cy="530.5" r="2.8"/><circle cx="1524.5" cy="534.5" r="2.8"/><circle cx="1525.2" cy="535.6" r="2.8"/><circle cx="1525.4" cy="536.4" r="2.8"/><circle cx="1526" cy="536.9" r="2.8"/><circle cx="1528.3" cy="540.7" r="2.8"/><circle cx="1529.6" cy="542.4" r="2.8"/><circle cx="1531.2" cy="544.2" r="2.8"/><circle cx="1531.9" cy="545.8" r="2.8"/><circle cx="1532.9" cy="547.5" r="2.8"/><circle cx="1534.3" cy="549.4" r="2.8"/><circle cx="1536.8" cy="553.4" r="2.8"/><circle cx="1537.9" cy="554.8" r="2.8"/><circle cx="1539.1" cy="557" r="2.8"/><circle cx="1539.9" cy="558.1" r="2.8"/><circle cx="1541.4" cy="560.1" r="2.8"/><circle cx="1543.3" cy="562.8" r="2.8"/><circle cx="1543.5" cy="563.1" r="2.8"/><circle cx="1545.1" cy="565.1" r="2.8"/><circle cx="1546" cy="566.9" r="2.8"/><circle cx="1547.4" cy="568.8" r="2.8"/><circle cx="1548.8" cy="571.7" r="2.8"/><circle cx="1550.4" cy="573.3" r="2.8"/><circle cx="1550.8" cy="574" r="2.8"/><circle cx="1551.4" cy="574.9" r="2.8"/><circle cx="1551.6" cy="575.2" r="2.8"/><circle cx="1554.3" cy="579.3" r="2.8"/><circle cx="1556.8" cy="582.8" r="2.8"/><circle cx="1559" cy="586.8" r="2.8"/><circle cx="1559.4" cy="587.6" r="2.8"/><circle cx="1560.3" cy="588.8" r="2.8"/><circle cx="1562.7" cy="592.7" r="2.8"/><circle cx="1565.6" cy="596.7" r="2.8"/><circle cx="1566.8" cy="598.8" r="2.8"/><circle cx="1568.2" cy="600.7" r="2.8"/><circle cx="1568.4" cy="601.6" r="2.8"/><circle cx="1570" cy="604.1" r="2.8"/><circle cx="1571.2" cy="605.9" r="2.8"/><circle cx="1572.9" cy="608.4" r="2.8"/><circle cx="1572.9" cy="609.3" r="2.8"/><circle cx="1573.7" cy="609.8" r="2.8"/><circle cx="1575" cy="612" r="2.8"/><circle cx="1575.7" cy="612.9" r="2.8"/><circle cx="1576.9" cy="615" r="2.8"/><circle cx="1578.5" cy="617.4" r="2.8"/><circle cx="1578.9" cy="618.7" r="2.8"/><circle cx="1579.7" cy="618.9" r="2.8"/><circle cx="1580" cy="620.1" r="2.8"/><circle cx="1580.6" cy="620.6" r="2.8"/><circle cx="1581.1" cy="621.2" r="2.8"/><circle cx="1581.2" cy="622.2" r="2.8"/><circle cx="1582.5" cy="623.9" r="2.8"/><circle cx="1583.5" cy="625.3" r="2.8"/><circle cx="1584.1" cy="626.6" r="2.8"/><circle cx="1585.1" cy="627.4" r="2.8"/><circle cx="1587.4" cy="631.1" r="2.8"/><circle cx="1588.7" cy="632.9" r="2.8"/><circle cx="1589.6" cy="633.5" r="2.8"/><circle cx="1591.2" cy="636.1" r="2.8"/><circle cx="1591.6" cy="636.5" r="2.8"/></g>
<path d="M1153 638L1157 601.2L1158.7 589.3L1161.1 575.4L1167.1 545L1178.2 495.1L1185.3 456.7L1187.5 445.9L1190.2 436.2L1215.3 361.2L1223.5 335.4L1227.2 325L1231.4 314.8L1237.2 302.1L1250 276L1260 254.2L1264 246.1L1270.3 234.7L1279.9 219.4L1290.7 201.4L1294.6 195.5L1298.8 189.9L1310.6 176.3L1323.9 162.7L1336.5 151.2L1343.5 145.5L1349.9 140.7L1372.2 125.5L1387.8 116.5L1404 108.4L1410.4 105.6L1418.8 102.3L1426.3 99.6L1434 97.2L1452.4 92.4L1472 88.5L1484.9 86.6L1498.8 85.1L1522.8 83.2L1547.8 81.6L1567.8 80.8L1645.9 78.9L1675 78L1694 77L1741 73.9L1819 70" fill="none" stroke="#548235" stroke-width="2.2" stroke-linecap="round" stroke-linejoin="round"/><path d="M1153.2 638.2h0M1154 627.1h0M1155.1 618.3h0M1155.7 612.8h0M1155.8 610.6h0M1155.9 608.2h0M1157.4 597.2h0M1157.9 595.1h0M1158.3 590.9h0M1160 580.2h0M1160.4 578.7h0M1161.1 576.1h0M1161.3 572.7h0M1161.8 571.3h0M1162.2 568h0M1162.6 565.7h0M1163.5 562.8h0M1165.6 552.6h0M1166.9 546.2h0M1169 537.1h0M1170.7 528.2h0M1172.4 522.2h0M1172.2 520.7h0M1174 515h0M1174.8 511.1h0M1177.2 500.2h0M1177.8 496h0M1178.8 490.9h0M1181 480.2h0M1181.6 476.6h0M1183.3 465.9h0M1183.9 463.7h0M1184.5 459.9h0M1186.7 449.9h0M1189.5 439h0M1189.6 438h0M1190.1 436h0M1191.9 432.2h0M1194.6 422.2h0M1195.3 421.2h0M1195.8 420.1h0M1196.2 419.1h0M1199.1 409.2h0M1202.3 399.8h0M1203.1 397.7h0M1205 391.4h0M1206 388.7h0M1208.4 382.5h0M1209.8 378.6h0M1210.1 376.3h0M1211.7 372.5h0M1215 362.8h0M1215.1 361.4h0M1216.8 357.5h0M1216.7 356.4h0M1218.3 352.3h0M1219.7 347.9h0M1220 345.7h0M1222.3 339.5h0M1223.2 336.8h0M1224.3 333.8h0M1224.4 332.6h0M1224.9 331.8h0M1225.3 330.8h0M1226.2 327.9h0M1226.9 325.5h0M1230.4 317.5h0M1233.6 310.1h0M1234.6 308.1h0M1236.5 303.6h0M1238.3 299h0M1239 298.3h0M1240.4 295.7h0M1243.7 288.9h0M1244 288.2h0M1244.6 286.6h0M1245.5 284.9h0M1246.4 283.6h0M1247 282.2h0M1248.6 279.4h0M1248.9 278.5h0M1252.1 271.9h0M1255.2 264.7h0M1256.5 262.1h0M1256.9 261h0M1257.5 260.2h0M1259.4 255.8h0M1261.6 251.4h0M1262.4 249.5h0M1262.6 248.6h0M1263.2 247.8h0M1264 246.1h0M1264.3 245.5h0M1264.8 244.8h0M1266.3 241.8h0M1267.3 239.5h0M1268.1 238.2h0M1269.8 236.3h0M1270.4 234.9h0M1270.3 234.4h0M1270.9 233.6h0M1271.4 232.6h0M1272.4 231.6h0M1272.7 230.5h0M1273.3 230h0M1273.5 229.3h0M1276.9 224.2h0M1280 219.3h0M1280.3 218.7h0M1280.7 218.2h0M1280.7 218h0M1281.5 217.1h0M1284.7 211.2h0M1286.1 209h0M1286.4 208.3h0M1287.4 206.3h0M1290.8 200.9h0M1291.8 199.7h0M1292.5 198.6h0M1293.4 197.5h0M1293.8 196.9h0M1295.2 195.1h0M1298.5 190.4h0M1301.8 186.6h0M1302 185.8h0M1302.5 185.1h0M1304 183.7h0M1306.4 181.4h0M1307.3 179.8h0M1308.3 179.2h0M1308.9 178.5h0M1311.8 174.9h0M1312.5 174.5h0M1314.8 172.2h0M1315.3 171.6h0M1318.8 168.2h0M1320.2 166.7h0M1320.3 166.3h0M1321.2 165.4h0M1321.8 164.7h0M1322.1 164.1h0M1325.4 161.2h0M1327.1 159.6h0M1328.5 158.6h0M1331.9 155.2h0M1332.7 154.6h0M1334.8 152.5h0M1336.2 151.8h0M1337.6 150.3h0M1337.7 150h0M1338 149.9h0M1339.4 149h0M1340.4 147.7h0M1340.8 147.6h0M1341.9 146.8h0M1343.8 145.3h0M1345 144.4h0M1348.3 142h0M1348.6 141.4h0M1349.3 141.5h0M1349.4 141h0M1350.2 140.5h0M1351.2 140h0M1352.7 138.6h0M1355.8 136.4h0M1358.8 134.2h0M1359.6 133.8h0M1361.9 132.3h0M1363.4 131.7h0M1363.6 131.4h0M1367.1 129h0M1367.4 128.6h0M1368.4 127.9h0M1368.7 127.8h0M1369.4 127.3h0M1370.2 126.7h0M1372.2 125.4h0M1372.7 125.3h0M1373.9 124.7h0M1374 124.3h0M1377.4 122.2h0M1378.1 122.2h0M1380.1 120.8h0M1381.2 119.9h0M1381.7 120h0M1384 118.3h0M1384.5 118.1h0M1385.4 117.6h0M1388.7 115.8h0M1390 115.2h0M1392.3 114h0M1395.6 112.6h0M1396.3 112.1h0M1396.9 111.7h0M1400.4 110.2h0M1400.9 109.7h0M1401.4 109.7h0M1403.6 108.8h0M1405.6 107.6h0M1408.6 106.3h0M1409.5 105.9h0M1409.8 105.9h0M1410.7 105.5h0M1411.1 105.4h0M1411.5 105h0M1412.4 104.9h0M1416 103.3h0M1419 102.2h0M1419.7 101.7h0M1421.1 101.2h0M1424.4 100.4h0M1424.9 100.2h0M1425.7 99.7h0M1426.9 99.5h0M1428.7 99h0M1431.7 97.6h0M1432.4 97.7h0M1433.3 97.4h0M1433.6 97.3h0M1434.4 97h0M1434.8 96.8h0M1438.2 95.8h0M1439.5 95.6h0M1442.9 94.6h0M1445.1 94h0M1446.3 93.9h0M1447.3 93.5h0M1447.7 93.4h0M1448.2 93.6h0M1448.8 93.3h0M1449.7 93.2h0M1450.6 93h0M1451.4 92.9h0M1451.8 92.7h0M1453.9 92.1h0M1456.3 91.4h0M1459.5 90.8h0M1459.9 90.8h0M1460.7 90.7h0M1461.3 90.6h0M1462.8 90.4h0M1462.9 90.3h0M1464 89.9h0M1464.5 89.6h0M1465.8 89.4h0M1466.5 89.2h0M1467.5 89.5h0M1471 88.8h0M1471.5 88.8h0M1471.5 88.6h0M1473.1 88.5h0M1473.5 88.1h0M1474 88h0M1477.5 87.5h0M1478.1 87.8h0M1478.3 87.3h0M1479.2 87.5h0M1480.7 87.3h0M1481.1 86.9h0M1482.2 86.7h0M1482.8 86.6h0M1483.9 87h0M1484.8 86.8h0M1488 86.2h0M1491.3 85.8h0M1492.6 85.9h0M1496.1 85.4h0M1498 85.3h0M1498.9 85h0M1499.8 85.1h0M1500.2 85.1h0M1502.5 84.6h0M1503 84.8h0M1504.3 84.7h0M1504.9 84.4h0M1505.5 84.4h0M1505.9 84.7h0M1506.7 84.3h0M1507.9 84.1h0M1508.8 84h0M1509.5 84h0M1509.9 84.3h0M1510.9 83.9h0M1512.5 83.8h0M1514.3 83.9h0M1515 83.8h0M1515.3 83.7h0M1517.1 83.5h0M1517.6 83.5h0M1519.9 83.6h0M1520.7 83.6h0M1521.5 83.4h0M1521.8 83.2h0M1522.1 83.2h0M1523.1 83h0M1523.4 83.1h0M1523.7 83h0M1525.6 83.2h0M1527.8 82.8h0M1528.4 82.8h0M1528.8 83h0M1529.1 82.7h0M1529.9 82.9h0M1530.6 82.6h0M1531 82.8h0M1532.1 82.5h0M1533.6 82.6h0M1535.8 82.4h0M1536.3 82.4h0M1538.3 82.1h0M1538.7 82.3h0M1541.1 82h0M1544.4 81.8h0M1547.7 81.4h0M1548.3 81.6h0M1549.8 81.3h0M1551.4 81.6h0M1554.4 81.4h0M1555.1 81.3h0M1556.7 80.9h0M1559.9 81h0M1560.3 80.9h0M1562.6 81h0M1563.9 80.9h0M1564 80.7h0M1564.8 80.7h0M1565.3 80.7h0M1566.3 80.9h0M1568.5 80.8h0M1569.2 80.5h0M1572.5 80.9h0M1574.4 80.7h0M1574.7 80.7h0M1576.6 80.7h0M1579.5 80.7h0M1581.6 80.5h0M1582.8 80.6h0M1586 80.6h0M1587.9 80.2h0M1588.7 80.2h0M1590 80.4h0M1590.3 80.1h0M1591 80.4h0M1591.7 80h0M1593.5 80.4h0M1595 80h0M1596 80h0M1596.4 79.9h0M1598.9 80.2h0M1600 80.1h0M1603.3 80.1h0M1606.6 79.8h0M1606.9 79.6h0M1609 79.8h0M1612.1 79.8h0M1613 79.6h0M1613.9 79.8h0M1615.2 79.6h0M1618.3 79.6h0M1621.5 79.7h0M1624.9 79.3h0M1627 79.2h0M1629.1 79.2h0M1630.5 79.1h0M1632 79.1h0M1632.3 79.4h0M1632.9 79h0M1633.6 79.1h0M1634.6 79h0M1635.4 78.9h0M1636.9 79.2h0M1637.3 79.3h0M1638.4 78.9h0M1638.6 78.9h0M1640.6 79.2h0M1642.7 79.2h0M1645.1 79.2h0M1645.6 78.9h0M1646 78.7h0M1647.2 78.8h0M1647.8 78.7h0M1650.9 78.6h0M1652.7 78.8h0M1653.1 79h0M1656.3 78.9h0M1656.7 78.7h0M1657.2 78.6h0M1660.3 78.4h0M1661.2 78.6h0M1661.7 78.6h0M1664 78.3h0M1666 78.4h0M1666.6 78.5h0M1667 78.5h0M1667.5 78h0M1668.3 78.1h0M1668.7 78.2h0M1669.7 78.1h0M1670.1 78.2h0M1672.6 78.2h0M1673 78h0M1676.5 78.1h0M1677.9 77.9h0M1679.6 78h0M1680.2 77.7h0M1683.6 77.8h0M1684 77.7h0M1685 77.5h0M1685.3 77.3h0M1686.3 77.5h0M1686.9 77.3h0M1688.6 77.1h0M1690.8 77.4h0M1691 77.2h0M1691.8 77.3h0M1694.8 77.1h0M1696.2 77h0M1698.8 76.9h0M1699.3 76.6h0M1699.9 76.7h0M1701.9 76.5h0M1702.3 76.5h0M1703 76.6h0M1703.7 76.2h0M1705.8 76.3h0M1706.3 76.4h0M1708.8 76.1h0M1708.9 76h0M1710 76h0M1710.3 76h0M1713.4 75.8h0M1717 75.5h0M1717.5 75.6h0M1718.8 75.4h0M1719.4 75.3h0M1719.6 75h0M1721.4 75.2h0M1721.9 75.1h0M1725.1 75h0M1725.5 74.7h0M1726.4 74.7h0M1727.3 74.9h0M1728.4 74.5h0M1730.4 74.7h0M1731.4 74.5h0M1732.9 74.2h0M1735.3 74.2h0M1735.7 74.4h0M1736.2 74.1h0M1736.7 74.4h0M1737.3 74.3h0M1738.3 74.2h0M1738.7 74.1h0M1739.6 74.1h0M1742.8 73.8h0M1743.9 73.9h0M1746.9 73.6h0M1747.6 73.5h0M1748.5 73.4h0M1750.1 73.4h0M1750.5 73.4h0M1751.6 73.2h0M1753.1 73.2h0M1754.1 73h0M1757.4 73.1h0M1757.9 72.9h0M1758.9 73.2h0M1760.1 72.7h0M1760.4 72.9h0M1763.9 72.8h0M1767 72.7h0M1768.1 72.5h0M1768.8 72.7h0M1772.2 72.5h0M1775.4 72h0M1777.8 71.8h0M1778.5 72h0M1779.1 72.2h0M1780.5 71.8h0M1782.6 71.8h0M1783.7 71.8h0M1783.9 71.8h0M1785.7 71.5h0M1787.1 71.6h0M1788.5 71.4h0M1789.6 71.3h0M1791.2 71.4h0M1792.3 71.3h0M1793.2 71.2h0M1795.4 71.1h0M1796.2 71.2h0M1796.7 71.1h0M1797.1 71h0M1798.6 71h0M1799.7 71.1h0M1800.4 70.9h0M1801.4 71h0M1801.5 70.8h0M1805.1 70.7h0M1805.7 70.9h0M1808.6 70.7h0M1809.1 70.4h0M1810.2 70.6h0M1811.6 70.5h0M1812.7 70.4h0M1813.1 70.2h0M1814 70.5h0M1815.1 70.4h0M1815.5 70.1h0M1816.1 70h0M1816.6 70.1h0M1817.2 70.2h0M1817.8 70h0" fill="none" stroke="#548235" stroke-width="7.8" stroke-linecap="round"/>
<path d="M1156 638L1160 601.2L1161.7 589.3L1164.1 575.4L1170.1 545L1181.2 495.1L1188.3 456.7L1190.5 445.9L1193.2 436.3L1205.6 400.3L1217.9 361.1L1222.4 347.9L1226.5 336.6L1230.6 326.4L1233.4 319.9L1240.5 306.7L1249.3 287.6L1255.8 274.1L1265.5 255.4L1268.6 250.3L1273 243.6L1281 232.1L1287.7 223.3L1295.3 214L1301.3 207.3L1307.2 201.8L1313.4 196.8L1320.7 191.6L1328.3 186.8L1335.4 183L1342.7 179.8L1354.1 175.8L1363.6 172.9L1370.5 171.4L1377.4 170.4L1385.4 169.8L1394.4 169.6L1404.4 169.7L1415.4 170.4L1431.4 171.7L1458.3 174.2L1575.2 182L1595.2 183.6L1609.1 185L1621 186.8L1657.6 192.9L1682.2 197.5L1700.8 201.5L1738.8 210.4L1749.5 213L1758.2 215.5L1766.7 218.3L1776.1 221.8L1785.3 225.8L1792.5 229.4L1796.7 232L1800.8 234.9L1819 249" fill="none" stroke="#ED7D31" stroke-width="2" stroke-linecap="round" stroke-linejoin="round"/>
<g fill="none" stroke="#ED7D31" stroke-width="2.0"><circle cx="1156" cy="637.8" r="2.8"/><circle cx="1156.4" cy="633.1" r="2.8"/><circle cx="1157.4" cy="622" r="2.8"/><circle cx="1158.2" cy="617.1" r="2.8"/><circle cx="1159.3" cy="606.2" r="2.8"/><circle cx="1159.9" cy="603.9" r="2.8"/><circle cx="1160.3" cy="599.5" r="2.8"/><circle cx="1161.6" cy="591" r="2.8"/><circle cx="1162.1" cy="587.7" r="2.8"/><circle cx="1163.8" cy="576.9" r="2.8"/><circle cx="1164.8" cy="572.4" r="2.8"/><circle cx="1166.7" cy="561.9" r="2.8"/><circle cx="1168.2" cy="553.6" r="2.8"/><circle cx="1169.3" cy="547.8" r="2.8"/><circle cx="1170.3" cy="544" r="2.8"/><circle cx="1171.7" cy="538.3" r="2.8"/><circle cx="1171.9" cy="535.9" r="2.8"/><circle cx="1173.6" cy="529" r="2.8"/><circle cx="1174.3" cy="525.2" r="2.8"/><circle cx="1174.9" cy="522.7" r="2.8"/><circle cx="1176.9" cy="515.8" r="2.8"/><circle cx="1177.1" cy="514.3" r="2.8"/><circle cx="1178.8" cy="507.3" r="2.8"/><circle cx="1179.9" cy="501.6" r="2.8"/><circle cx="1180.7" cy="497.4" r="2.8"/><circle cx="1181.1" cy="495.8" r="2.8"/><circle cx="1182.1" cy="492" r="2.8"/><circle cx="1183.6" cy="483.2" r="2.8"/><circle cx="1183.9" cy="480.1" r="2.8"/><circle cx="1184.4" cy="477.2" r="2.8"/><circle cx="1186" cy="468.2" r="2.8"/><circle cx="1187" cy="463.4" r="2.8"/><circle cx="1188" cy="456.7" r="2.8"/><circle cx="1190.5" cy="445.9" r="2.8"/><circle cx="1191.9" cy="441.2" r="2.8"/><circle cx="1192.6" cy="438.4" r="2.8"/><circle cx="1192.9" cy="437.1" r="2.8"/><circle cx="1193.6" cy="435.7" r="2.8"/><circle cx="1194.4" cy="433.4" r="2.8"/><circle cx="1195.1" cy="431" r="2.8"/><circle cx="1195.4" cy="429.3" r="2.8"/><circle cx="1196.2" cy="426.9" r="2.8"/><circle cx="1197.1" cy="425" r="2.8"/><circle cx="1198.4" cy="420.6" r="2.8"/><circle cx="1199.7" cy="416.9" r="2.8"/><circle cx="1202.1" cy="410.2" r="2.8"/><circle cx="1204" cy="405.1" r="2.8"/><circle cx="1204.8" cy="403.1" r="2.8"/><circle cx="1205.1" cy="401.8" r="2.8"/><circle cx="1205.9" cy="399.2" r="2.8"/><circle cx="1206.3" cy="397.6" r="2.8"/><circle cx="1207.6" cy="393.8" r="2.8"/><circle cx="1209" cy="389.4" r="2.8"/><circle cx="1210.3" cy="385.7" r="2.8"/><circle cx="1211.4" cy="381.2" r="2.8"/><circle cx="1212.9" cy="376.2" r="2.8"/><circle cx="1213.4" cy="374.7" r="2.8"/><circle cx="1214.6" cy="371.9" r="2.8"/><circle cx="1215.8" cy="368.1" r="2.8"/><circle cx="1218.1" cy="360.6" r="2.8"/><circle cx="1218.5" cy="359.1" r="2.8"/><circle cx="1219.2" cy="357.6" r="2.8"/><circle cx="1221.4" cy="350.5" r="2.8"/><circle cx="1222.1" cy="347.9" r="2.8"/><circle cx="1223.2" cy="345.7" r="2.8"/><circle cx="1224.4" cy="342" r="2.8"/><circle cx="1225.2" cy="340.5" r="2.8"/><circle cx="1227.2" cy="334.5" r="2.8"/><circle cx="1228.2" cy="332.1" r="2.8"/><circle cx="1228.5" cy="331.2" r="2.8"/><circle cx="1229.7" cy="329.1" r="2.8"/><circle cx="1231.2" cy="325.1" r="2.8"/><circle cx="1232.9" cy="321.2" r="2.8"/><circle cx="1233.2" cy="320.6" r="2.8"/><circle cx="1233.5" cy="320.1" r="2.8"/><circle cx="1234.4" cy="317.6" r="2.8"/><circle cx="1236.1" cy="314.5" r="2.8"/><circle cx="1236.9" cy="313.4" r="2.8"/><circle cx="1239.2" cy="308.9" r="2.8"/><circle cx="1240.4" cy="306.7" r="2.8"/><circle cx="1241.4" cy="305" r="2.8"/><circle cx="1242.2" cy="303.6" r="2.8"/><circle cx="1242.5" cy="302.8" r="2.8"/><circle cx="1242.9" cy="301" r="2.8"/><circle cx="1244.6" cy="297.5" r="2.8"/><circle cx="1245.3" cy="296.5" r="2.8"/><circle cx="1247.1" cy="292.6" r="2.8"/><circle cx="1247.6" cy="290.9" r="2.8"/><circle cx="1248.8" cy="289.2" r="2.8"/><circle cx="1250.4" cy="285.6" r="2.8"/><circle cx="1251.4" cy="282.6" r="2.8"/><circle cx="1252.8" cy="280.1" r="2.8"/><circle cx="1253.2" cy="279.2" r="2.8"/><circle cx="1253.9" cy="278.5" r="2.8"/><circle cx="1255.1" cy="274.9" r="2.8"/><circle cx="1255.7" cy="274.1" r="2.8"/><circle cx="1257.1" cy="271.5" r="2.8"/><circle cx="1257.6" cy="270.5" r="2.8"/><circle cx="1258.4" cy="269.2" r="2.8"/><circle cx="1259.7" cy="266.9" r="2.8"/><circle cx="1261.7" cy="262.2" r="2.8"/><circle cx="1262.6" cy="260.8" r="2.8"/><circle cx="1264.4" cy="257.6" r="2.8"/><circle cx="1264.8" cy="256.3" r="2.8"/><circle cx="1265.4" cy="255.3" r="2.8"/><circle cx="1266.1" cy="254.8" r="2.8"/><circle cx="1267.4" cy="252" r="2.8"/><circle cx="1268.2" cy="250.9" r="2.8"/><circle cx="1269.5" cy="248.7" r="2.8"/><circle cx="1271.6" cy="245.9" r="2.8"/><circle cx="1272.1" cy="244.5" r="2.8"/><circle cx="1273.3" cy="243.6" r="2.8"/><circle cx="1274.9" cy="240.9" r="2.8"/><circle cx="1275.4" cy="240.4" r="2.8"/><circle cx="1276.5" cy="238.8" r="2.8"/><circle cx="1277.1" cy="237.8" r="2.8"/><circle cx="1278.6" cy="235.6" r="2.8"/><circle cx="1281.1" cy="232.1" r="2.8"/><circle cx="1281.8" cy="230.8" r="2.8"/><circle cx="1283.4" cy="228.7" r="2.8"/><circle cx="1284" cy="227.7" r="2.8"/><circle cx="1284.9" cy="226.8" r="2.8"/><circle cx="1285.9" cy="225.5" r="2.8"/><circle cx="1287.1" cy="224.1" r="2.8"/><circle cx="1289.6" cy="221" r="2.8"/><circle cx="1289.9" cy="220.2" r="2.8"/><circle cx="1291.5" cy="218.8" r="2.8"/><circle cx="1293.8" cy="215.6" r="2.8"/><circle cx="1294.2" cy="215.2" r="2.8"/><circle cx="1296.4" cy="212.4" r="2.8"/><circle cx="1297.4" cy="211.9" r="2.8"/><circle cx="1299.2" cy="209.9" r="2.8"/><circle cx="1300.9" cy="208.2" r="2.8"/><circle cx="1301.2" cy="207.5" r="2.8"/><circle cx="1302.1" cy="206.2" r="2.8"/><circle cx="1303" cy="205.7" r="2.8"/><circle cx="1304.2" cy="204.5" r="2.8"/><circle cx="1305.4" cy="203.4" r="2.8"/><circle cx="1305.7" cy="203.2" r="2.8"/><circle cx="1306.7" cy="202.6" r="2.8"/><circle cx="1306.8" cy="202.2" r="2.8"/><circle cx="1308.7" cy="200.5" r="2.8"/><circle cx="1308.9" cy="200.3" r="2.8"/><circle cx="1311.3" cy="198.5" r="2.8"/><circle cx="1312" cy="198.2" r="2.8"/><circle cx="1314.2" cy="196.2" r="2.8"/><circle cx="1314.9" cy="195.3" r="2.8"/><circle cx="1315.6" cy="195" r="2.8"/><circle cx="1318.2" cy="193.4" r="2.8"/><circle cx="1319.2" cy="192.4" r="2.8"/><circle cx="1321.1" cy="191.6" r="2.8"/><circle cx="1321.9" cy="190.7" r="2.8"/><circle cx="1322.3" cy="190.7" r="2.8"/><circle cx="1324" cy="189.7" r="2.8"/><circle cx="1325.7" cy="188.3" r="2.8"/><circle cx="1328.1" cy="186.9" r="2.8"/><circle cx="1330.1" cy="185.8" r="2.8"/><circle cx="1330.1" cy="185.6" r="2.8"/><circle cx="1330.8" cy="185.6" r="2.8"/><circle cx="1332.7" cy="184.5" r="2.8"/><circle cx="1335.1" cy="183.5" r="2.8"/><circle cx="1337.3" cy="181.9" r="2.8"/><circle cx="1340" cy="181" r="2.8"/><circle cx="1342.7" cy="180" r="2.8"/><circle cx="1343.9" cy="179.4" r="2.8"/><circle cx="1345.6" cy="178.8" r="2.8"/><circle cx="1346.7" cy="178.5" r="2.8"/><circle cx="1347.3" cy="177.9" r="2.8"/><circle cx="1347.7" cy="177.9" r="2.8"/><circle cx="1348.3" cy="177.9" r="2.8"/><circle cx="1349.6" cy="177" r="2.8"/><circle cx="1350.3" cy="176.8" r="2.8"/><circle cx="1351.7" cy="176.3" r="2.8"/><circle cx="1352.2" cy="176.4" r="2.8"/><circle cx="1353.6" cy="176.2" r="2.8"/><circle cx="1355" cy="175.5" r="2.8"/><circle cx="1357.6" cy="174.6" r="2.8"/><circle cx="1358.4" cy="174.6" r="2.8"/><circle cx="1359.2" cy="174.4" r="2.8"/><circle cx="1359.9" cy="173.8" r="2.8"/><circle cx="1361.9" cy="173.2" r="2.8"/><circle cx="1363.3" cy="172.7" r="2.8"/><circle cx="1363.9" cy="173" r="2.8"/><circle cx="1364.6" cy="172.3" r="2.8"/><circle cx="1365.8" cy="172.3" r="2.8"/><circle cx="1368" cy="171.7" r="2.8"/><circle cx="1369.8" cy="171.3" r="2.8"/><circle cx="1370.8" cy="171.5" r="2.8"/><circle cx="1371.6" cy="171" r="2.8"/><circle cx="1373.6" cy="170.8" r="2.8"/><circle cx="1374.6" cy="170.9" r="2.8"/><circle cx="1375.7" cy="170.5" r="2.8"/><circle cx="1375.9" cy="170.8" r="2.8"/><circle cx="1378.5" cy="170.2" r="2.8"/><circle cx="1380.1" cy="170" r="2.8"/><circle cx="1381.7" cy="170.2" r="2.8"/><circle cx="1382.6" cy="170.2" r="2.8"/><circle cx="1383.2" cy="170.2" r="2.8"/><circle cx="1383.5" cy="170.1" r="2.8"/><circle cx="1384.3" cy="170" r="2.8"/><circle cx="1384.9" cy="169.7" r="2.8"/><circle cx="1387.5" cy="169.5" r="2.8"/><circle cx="1388.4" cy="170" r="2.8"/><circle cx="1390.2" cy="169.6" r="2.8"/><circle cx="1390.8" cy="169.7" r="2.8"/><circle cx="1391.3" cy="169.4" r="2.8"/><circle cx="1394" cy="169.5" r="2.8"/><circle cx="1394.3" cy="169.8" r="2.8"/><circle cx="1396.6" cy="169.4" r="2.8"/><circle cx="1398.2" cy="169.5" r="2.8"/><circle cx="1400.7" cy="169.7" r="2.8"/><circle cx="1403.1" cy="169.6" r="2.8"/><circle cx="1404" cy="169.7" r="2.8"/><circle cx="1404.9" cy="169.6" r="2.8"/><circle cx="1406.2" cy="170" r="2.8"/><circle cx="1407" cy="169.6" r="2.8"/><circle cx="1408.2" cy="170" r="2.8"/><circle cx="1409.5" cy="169.9" r="2.8"/><circle cx="1410.6" cy="170.1" r="2.8"/><circle cx="1411.4" cy="169.9" r="2.8"/><circle cx="1413.8" cy="170.5" r="2.8"/><circle cx="1415.3" cy="170.5" r="2.8"/><circle cx="1415.6" cy="170.5" r="2.8"/><circle cx="1416.3" cy="170.4" r="2.8"/><circle cx="1416.9" cy="170.4" r="2.8"/><circle cx="1417.6" cy="170.7" r="2.8"/><circle cx="1418.5" cy="170.7" r="2.8"/><circle cx="1418.6" cy="170.8" r="2.8"/><circle cx="1420" cy="170.7" r="2.8"/><circle cx="1421" cy="170.6" r="2.8"/><circle cx="1421.1" cy="170.8" r="2.8"/><circle cx="1422" cy="170.8" r="2.8"/><circle cx="1422.6" cy="171.1" r="2.8"/><circle cx="1425" cy="171.1" r="2.8"/><circle cx="1426.6" cy="171.2" r="2.8"/><circle cx="1427.7" cy="171.1" r="2.8"/><circle cx="1428.7" cy="171.2" r="2.8"/><circle cx="1430.4" cy="171.6" r="2.8"/><circle cx="1432.4" cy="171.7" r="2.8"/><circle cx="1433.8" cy="171.8" r="2.8"/><circle cx="1436.4" cy="172.1" r="2.8"/><circle cx="1439.1" cy="172.4" r="2.8"/><circle cx="1441.5" cy="172.7" r="2.8"/><circle cx="1442.3" cy="172.7" r="2.8"/><circle cx="1443.4" cy="172.8" r="2.8"/><circle cx="1444.3" cy="172.7" r="2.8"/><circle cx="1445.4" cy="173.1" r="2.8"/><circle cx="1445.8" cy="173.2" r="2.8"/><circle cx="1446.1" cy="173.4" r="2.8"/><circle cx="1447.4" cy="173.4" r="2.8"/><circle cx="1448.4" cy="173.4" r="2.8"/><circle cx="1448.9" cy="173.3" r="2.8"/><circle cx="1451.2" cy="173.7" r="2.8"/><circle cx="1452.3" cy="173.7" r="2.8"/><circle cx="1453.6" cy="174" r="2.8"/><circle cx="1455" cy="174.1" r="2.8"/><circle cx="1455.4" cy="173.9" r="2.8"/><circle cx="1456.6" cy="174.3" r="2.8"/><circle cx="1457.3" cy="174.1" r="2.8"/><circle cx="1459" cy="174.1" r="2.8"/><circle cx="1460.1" cy="174.4" r="2.8"/><circle cx="1462.5" cy="174.6" r="2.8"/><circle cx="1464.1" cy="174.7" r="2.8"/><circle cx="1464.4" cy="174.5" r="2.8"/><circle cx="1467.1" cy="174.7" r="2.8"/><circle cx="1467.3" cy="174.7" r="2.8"/><circle cx="1468" cy="174.8" r="2.8"/><circle cx="1468.8" cy="174.9" r="2.8"/><circle cx="1471" cy="175" r="2.8"/><circle cx="1472" cy="175.3" r="2.8"/><circle cx="1473.5" cy="175.3" r="2.8"/><circle cx="1474.4" cy="175.1" r="2.8"/><circle cx="1475" cy="175.3" r="2.8"/><circle cx="1475.5" cy="175.4" r="2.8"/><circle cx="1475.9" cy="175.6" r="2.8"/><circle cx="1478.8" cy="175.5" r="2.8"/><circle cx="1481.2" cy="175.6" r="2.8"/><circle cx="1483.9" cy="175.7" r="2.8"/><circle cx="1486.1" cy="176" r="2.8"/><circle cx="1486.7" cy="175.9" r="2.8"/><circle cx="1488.5" cy="176.2" r="2.8"/><circle cx="1491" cy="176.2" r="2.8"/><circle cx="1491.9" cy="176.5" r="2.8"/><circle cx="1492.8" cy="176.5" r="2.8"/><circle cx="1494.3" cy="176.4" r="2.8"/><circle cx="1494.6" cy="176.7" r="2.8"/><circle cx="1496.5" cy="176.9" r="2.8"/><circle cx="1498.9" cy="176.9" r="2.8"/><circle cx="1499.9" cy="177" r="2.8"/><circle cx="1500.5" cy="177" r="2.8"/><circle cx="1501" cy="177" r="2.8"/><circle cx="1502.6" cy="177.3" r="2.8"/><circle cx="1504.1" cy="177.4" r="2.8"/><circle cx="1504.8" cy="177" r="2.8"/><circle cx="1505.8" cy="177.5" r="2.8"/><circle cx="1506.2" cy="177.1" r="2.8"/><circle cx="1507" cy="177.4" r="2.8"/><circle cx="1508" cy="177.3" r="2.8"/><circle cx="1510.5" cy="177.7" r="2.8"/><circle cx="1511.3" cy="177.5" r="2.8"/><circle cx="1512.7" cy="177.9" r="2.8"/><circle cx="1513.2" cy="178.1" r="2.8"/><circle cx="1514.3" cy="178.1" r="2.8"/><circle cx="1516.4" cy="177.9" r="2.8"/><circle cx="1517.5" cy="178" r="2.8"/><circle cx="1519.4" cy="178.1" r="2.8"/><circle cx="1520.9" cy="178.4" r="2.8"/><circle cx="1521.4" cy="178.4" r="2.8"/><circle cx="1523" cy="178.5" r="2.8"/><circle cx="1523.4" cy="178.5" r="2.8"/><circle cx="1526" cy="178.8" r="2.8"/><circle cx="1526.5" cy="178.9" r="2.8"/><circle cx="1528.1" cy="178.8" r="2.8"/><circle cx="1529.5" cy="179.1" r="2.8"/><circle cx="1530.1" cy="178.7" r="2.8"/><circle cx="1532.8" cy="179.1" r="2.8"/><circle cx="1534.1" cy="179" r="2.8"/><circle cx="1536.8" cy="179.3" r="2.8"/><circle cx="1537.5" cy="179.5" r="2.8"/><circle cx="1538.6" cy="179.3" r="2.8"/><circle cx="1539.5" cy="179.7" r="2.8"/><circle cx="1540.8" cy="179.5" r="2.8"/><circle cx="1543.3" cy="179.8" r="2.8"/><circle cx="1544" cy="180.1" r="2.8"/><circle cx="1546.7" cy="179.9" r="2.8"/><circle cx="1547.6" cy="179.9" r="2.8"/><circle cx="1550.1" cy="180.5" r="2.8"/><circle cx="1551.3" cy="180.3" r="2.8"/><circle cx="1553.9" cy="180.8" r="2.8"/><circle cx="1556" cy="180.4" r="2.8"/><circle cx="1556.7" cy="180.5" r="2.8"/><circle cx="1557.4" cy="180.9" r="2.8"/><circle cx="1557.7" cy="180.9" r="2.8"/><circle cx="1558.4" cy="180.6" r="2.8"/><circle cx="1560.9" cy="181.2" r="2.8"/><circle cx="1562.5" cy="181.3" r="2.8"/><circle cx="1563.4" cy="181.2" r="2.8"/><circle cx="1564.4" cy="181.3" r="2.8"/><circle cx="1565.9" cy="181.5" r="2.8"/><circle cx="1568.2" cy="181.4" r="2.8"/><circle cx="1569.5" cy="181.8" r="2.8"/><circle cx="1570.5" cy="181.4" r="2.8"/><circle cx="1573" cy="181.8" r="2.8"/><circle cx="1574.6" cy="182.1" r="2.8"/><circle cx="1577.2" cy="182.1" r="2.8"/><circle cx="1579.5" cy="182.1" r="2.8"/><circle cx="1580.4" cy="182.2" r="2.8"/><circle cx="1581.1" cy="182.2" r="2.8"/><circle cx="1582.8" cy="182.3" r="2.8"/><circle cx="1584.5" cy="182.6" r="2.8"/><circle cx="1587.3" cy="183.1" r="2.8"/><circle cx="1587.9" cy="182.8" r="2.8"/><circle cx="1589.3" cy="182.9" r="2.8"/><circle cx="1590.4" cy="183.1" r="2.8"/><circle cx="1590.7" cy="183.4" r="2.8"/><circle cx="1592" cy="183.3" r="2.8"/><circle cx="1593.2" cy="183.4" r="2.8"/><circle cx="1594.3" cy="183.4" r="2.8"/><circle cx="1596.2" cy="183.9" r="2.8"/><circle cx="1598" cy="184.1" r="2.8"/><circle cx="1599.1" cy="183.8" r="2.8"/><circle cx="1601.8" cy="184.2" r="2.8"/><circle cx="1602.2" cy="184" r="2.8"/><circle cx="1603.8" cy="184.5" r="2.8"/><circle cx="1604.7" cy="184.3" r="2.8"/><circle cx="1605.1" cy="184.5" r="2.8"/><circle cx="1606.3" cy="184.7" r="2.8"/><circle cx="1607" cy="184.6" r="2.8"/><circle cx="1608.9" cy="185" r="2.8"/><circle cx="1611.3" cy="185.3" r="2.8"/><circle cx="1614" cy="185.8" r="2.8"/><circle cx="1615" cy="185.6" r="2.8"/><circle cx="1615.4" cy="185.9" r="2.8"/><circle cx="1616.5" cy="186.1" r="2.8"/><circle cx="1618.2" cy="186.1" r="2.8"/><circle cx="1618.7" cy="186.6" r="2.8"/><circle cx="1619.9" cy="186.6" r="2.8"/><circle cx="1621.6" cy="186.9" r="2.8"/><circle cx="1624.4" cy="187.5" r="2.8"/><circle cx="1625" cy="187.5" r="2.8"/><circle cx="1625.8" cy="187.6" r="2.8"/><circle cx="1627" cy="187.6" r="2.8"/><circle cx="1627.8" cy="188.1" r="2.8"/><circle cx="1629" cy="188" r="2.8"/><circle cx="1630.4" cy="188.4" r="2.8"/><circle cx="1632.5" cy="188.6" r="2.8"/><circle cx="1633.5" cy="188.7" r="2.8"/><circle cx="1634.7" cy="189" r="2.8"/><circle cx="1635.5" cy="189.4" r="2.8"/><circle cx="1636.3" cy="189.3" r="2.8"/><circle cx="1638.8" cy="189.6" r="2.8"/><circle cx="1641.4" cy="190.4" r="2.8"/><circle cx="1641.9" cy="190.5" r="2.8"/><circle cx="1643.1" cy="190.4" r="2.8"/><circle cx="1644" cy="190.5" r="2.8"/><circle cx="1644.8" cy="190.8" r="2.8"/><circle cx="1646.1" cy="190.7" r="2.8"/><circle cx="1646.8" cy="191.3" r="2.8"/><circle cx="1647.1" cy="191.1" r="2.8"/><circle cx="1649.4" cy="191.4" r="2.8"/><circle cx="1650.5" cy="191.6" r="2.8"/><circle cx="1651.2" cy="191.7" r="2.8"/><circle cx="1653.4" cy="192.4" r="2.8"/><circle cx="1653.8" cy="192.5" r="2.8"/><circle cx="1654.4" cy="192.4" r="2.8"/><circle cx="1655.1" cy="192.4" r="2.8"/><circle cx="1655.9" cy="192.8" r="2.8"/><circle cx="1656.5" cy="192.6" r="2.8"/><circle cx="1657.1" cy="192.8" r="2.8"/><circle cx="1658.4" cy="192.9" r="2.8"/><circle cx="1659.1" cy="193" r="2.8"/><circle cx="1659.5" cy="193.2" r="2.8"/><circle cx="1661" cy="193.5" r="2.8"/><circle cx="1661.6" cy="193.7" r="2.8"/><circle cx="1663" cy="194" r="2.8"/><circle cx="1665" cy="193.9" r="2.8"/><circle cx="1666" cy="194.2" r="2.8"/><circle cx="1667.2" cy="194.7" r="2.8"/><circle cx="1668.2" cy="194.7" r="2.8"/><circle cx="1669.6" cy="195" r="2.8"/><circle cx="1669.9" cy="195.3" r="2.8"/><circle cx="1670.6" cy="195" r="2.8"/><circle cx="1673.3" cy="195.6" r="2.8"/><circle cx="1674" cy="195.8" r="2.8"/><circle cx="1675" cy="195.9" r="2.8"/><circle cx="1675.5" cy="196.2" r="2.8"/><circle cx="1677.9" cy="196.4" r="2.8"/><circle cx="1678.7" cy="196.6" r="2.8"/><circle cx="1679.8" cy="197" r="2.8"/><circle cx="1681" cy="197.2" r="2.8"/><circle cx="1683.5" cy="197.7" r="2.8"/><circle cx="1684.3" cy="197.8" r="2.8"/><circle cx="1684.7" cy="197.8" r="2.8"/><circle cx="1685.9" cy="198.5" r="2.8"/><circle cx="1687.4" cy="198.6" r="2.8"/><circle cx="1689" cy="198.7" r="2.8"/><circle cx="1689.8" cy="198.8" r="2.8"/><circle cx="1690" cy="199.2" r="2.8"/><circle cx="1692.4" cy="199.6" r="2.8"/><circle cx="1693.2" cy="199.9" r="2.8"/><circle cx="1694.3" cy="199.8" r="2.8"/><circle cx="1695.3" cy="200.1" r="2.8"/><circle cx="1696.7" cy="200.3" r="2.8"/><circle cx="1698.9" cy="201.3" r="2.8"/><circle cx="1701.5" cy="201.7" r="2.8"/><circle cx="1702.1" cy="201.9" r="2.8"/><circle cx="1703.1" cy="201.8" r="2.8"/><circle cx="1703.8" cy="202.2" r="2.8"/><circle cx="1704" cy="202.2" r="2.8"/><circle cx="1704.7" cy="202.3" r="2.8"/><circle cx="1705.9" cy="202.6" r="2.8"/><circle cx="1706.9" cy="202.7" r="2.8"/><circle cx="1707.9" cy="202.9" r="2.8"/><circle cx="1708.7" cy="203.4" r="2.8"/><circle cx="1709.6" cy="203.6" r="2.8"/><circle cx="1711.1" cy="203.9" r="2.8"/><circle cx="1712.7" cy="204.2" r="2.8"/><circle cx="1714.3" cy="204.5" r="2.8"/><circle cx="1714.7" cy="204.9" r="2.8"/><circle cx="1716.6" cy="205.1" r="2.8"/><circle cx="1718.1" cy="205.7" r="2.8"/><circle cx="1719.1" cy="205.7" r="2.8"/><circle cx="1720.7" cy="206.3" r="2.8"/><circle cx="1722.6" cy="206.6" r="2.8"/><circle cx="1722.9" cy="206.9" r="2.8"/><circle cx="1724.9" cy="207" r="2.8"/><circle cx="1725.8" cy="207.2" r="2.8"/><circle cx="1726.9" cy="207.6" r="2.8"/><circle cx="1728" cy="207.7" r="2.8"/><circle cx="1728.8" cy="208.1" r="2.8"/><circle cx="1729.2" cy="208" r="2.8"/><circle cx="1731.3" cy="208.7" r="2.8"/><circle cx="1731.7" cy="208.8" r="2.8"/><circle cx="1732.7" cy="209.2" r="2.8"/><circle cx="1735" cy="209.8" r="2.8"/><circle cx="1736.2" cy="209.9" r="2.8"/><circle cx="1736.7" cy="209.8" r="2.8"/><circle cx="1737.6" cy="210.1" r="2.8"/><circle cx="1738.5" cy="210.5" r="2.8"/><circle cx="1739.8" cy="210.6" r="2.8"/><circle cx="1741" cy="210.8" r="2.8"/><circle cx="1741.8" cy="211.1" r="2.8"/><circle cx="1742.8" cy="211.5" r="2.8"/><circle cx="1743.5" cy="211.3" r="2.8"/><circle cx="1743.9" cy="211.9" r="2.8"/><circle cx="1745" cy="212" r="2.8"/><circle cx="1746.8" cy="212.3" r="2.8"/><circle cx="1748.1" cy="212.7" r="2.8"/><circle cx="1750.2" cy="213.4" r="2.8"/><circle cx="1752.1" cy="213.8" r="2.8"/><circle cx="1752.6" cy="214" r="2.8"/><circle cx="1752.9" cy="214" r="2.8"/><circle cx="1753.8" cy="214.1" r="2.8"/><circle cx="1755.3" cy="214.4" r="2.8"/><circle cx="1755.7" cy="214.9" r="2.8"/><circle cx="1756.3" cy="214.8" r="2.8"/><circle cx="1757.1" cy="215.4" r="2.8"/><circle cx="1758.1" cy="215.5" r="2.8"/><circle cx="1759.3" cy="216" r="2.8"/><circle cx="1761.3" cy="216.2" r="2.8"/><circle cx="1762.4" cy="216.9" r="2.8"/><circle cx="1764.1" cy="217.5" r="2.8"/><circle cx="1766.5" cy="218.2" r="2.8"/><circle cx="1768" cy="218.6" r="2.8"/><circle cx="1769.7" cy="219.3" r="2.8"/><circle cx="1771.4" cy="219.9" r="2.8"/><circle cx="1772.9" cy="220.5" r="2.8"/><circle cx="1775.2" cy="221.5" r="2.8"/><circle cx="1777" cy="222.1" r="2.8"/><circle cx="1778.9" cy="222.9" r="2.8"/><circle cx="1781.4" cy="223.8" r="2.8"/><circle cx="1782.1" cy="224.4" r="2.8"/><circle cx="1782.6" cy="224.6" r="2.8"/><circle cx="1783.3" cy="224.8" r="2.8"/><circle cx="1783.8" cy="225.3" r="2.8"/><circle cx="1785.3" cy="225.7" r="2.8"/><circle cx="1787.8" cy="226.8" r="2.8"/><circle cx="1788.6" cy="227.4" r="2.8"/><circle cx="1791" cy="228.5" r="2.8"/><circle cx="1792.3" cy="229.2" r="2.8"/><circle cx="1792.9" cy="229.4" r="2.8"/><circle cx="1793.2" cy="229.9" r="2.8"/><circle cx="1794.3" cy="230.1" r="2.8"/><circle cx="1796.9" cy="232" r="2.8"/><circle cx="1798.5" cy="233" r="2.8"/><circle cx="1800.7" cy="234.7" r="2.8"/><circle cx="1801.6" cy="235.3" r="2.8"/><circle cx="1804.3" cy="237.5" r="2.8"/><circle cx="1804.6" cy="237.6" r="2.8"/><circle cx="1807.4" cy="239.8" r="2.8"/><circle cx="1808.4" cy="240.3" r="2.8"/><circle cx="1808.7" cy="240.9" r="2.8"/><circle cx="1809.5" cy="241.4" r="2.8"/><circle cx="1809.8" cy="241.8" r="2.8"/><circle cx="1811.3" cy="242.9" r="2.8"/><circle cx="1813.6" cy="244.7" r="2.8"/><circle cx="1813.8" cy="245.1" r="2.8"/><circle cx="1815.1" cy="245.8" r="2.8"/><circle cx="1817.2" cy="247.2" r="2.8"/><circle cx="1818.6" cy="248.6" r="2.8"/><circle cx="1819" cy="249" r="2.8"/></g>
<g fill="none" stroke="#ED7D31" stroke-width="1.9"><circle cx="1146" cy="587.4" r="2.7"/><circle cx="1146.8" cy="609.6" r="2.7"/><circle cx="1147.4" cy="624.4" r="2.7"/><circle cx="1147.4" cy="636.4" r="2.7"/></g>
<path d="M1214 636L1219.8 612.7L1226.9 586.5L1237.8 542.8L1244.9 520.9L1255.6 483.3L1264.1 457.6L1270.9 435.6L1274.7 424.2L1278.9 412.9L1290.7 384.2L1306.4 343L1312.1 329.1L1323 305.4L1334.8 282.2L1341.5 269.9L1348.5 257.7L1354.8 247.4L1360.2 239L1364.8 232.5L1369.1 226.9L1381.5 212.5L1388.4 205.2L1405.3 188.1L1411.4 182.9L1418 178.4L1426.6 173.3L1433.7 169.6L1442 165.9L1449.5 163.1L1457.1 160.7L1465.9 158.6L1474.7 156.8L1491.6 154.7L1509.6 153.6L1546.7 152.7L1591.8 152.6L1628.9 152.8L1677.9 153.9L1698 155.1L1718.9 157.6L1736.7 160.3L1755.4 163.6L1769.2 166.4L1782.8 169.7L1795.3 173.3L1803.8 176.3L1810.2 179.2L1819 184" fill="none" stroke="#FFC000" stroke-width="2.2" stroke-linecap="round" stroke-linejoin="round"/><path d="M1213.8 636h0M1214.3 635h0M1215.1 632.6h0M1215.4 630.9h0M1215.4 629.2h0M1218.1 618.9h0M1221.2 607.9h0M1221.4 606.6h0M1222.4 602.8h0M1225.6 592.3h0M1226.7 587.3h0M1227.1 585.9h0M1227.9 582.3h0M1228.2 580.8h0M1229.5 575.6h0M1230.9 570.3h0M1231.7 566.4h0M1232.2 564.6h0M1234.1 556.7h0M1234.6 554.8h0M1237.5 544.4h0M1238 542.7h0M1238.3 541.2h0M1239.7 537h0M1242.8 527.6h0M1244.9 521h0M1245.8 517.8h0M1246.3 515.7h0M1248.4 508.5h0M1250.7 501.5h0M1250.7 499.8h0M1251.1 498.4h0M1252.4 495.2h0M1252.7 493.7h0M1253.6 490.2h0M1254.2 488.9h0M1255.1 485.9h0M1256.8 479.3h0M1257.4 477.8h0M1258.2 474.9h0M1259.1 472.9h0M1259.3 472h0M1261.4 466h0M1262.4 463.3h0M1262.6 462.5h0M1263 460.6h0M1263.7 459.7h0M1263.8 458.6h0M1264.3 457.3h0M1265.1 454.2h0M1265.9 452.2h0M1266.5 450.5h0M1266.8 449.3h0M1267.6 446.3h0M1267.7 445.3h0M1269.3 441.1h0M1269.4 440.1h0M1270 437.8h0M1273.5 428h0M1275.4 422.2h0M1277.7 416.7h0M1278.4 414h0M1280.4 408.9h0M1282.4 403.8h0M1283.3 401.6h0M1284.5 400h0M1287.3 392.2h0M1288.6 389.7h0M1288.6 389.2h0M1289.4 386.8h0M1290.5 385.5h0M1291 382.7h0M1292.6 379.7h0M1295.9 371h0M1297 367.4h0M1300.5 359h0M1300.7 357.2h0M1301.3 355.9h0M1303.8 350.4h0M1303.6 349.5h0M1306.1 344.6h0M1306.1 343.9h0M1309.4 335.5h0M1310.6 332.6h0M1311 331.6h0M1314 324.2h0M1314.9 322.1h0M1318.4 315h0M1318.5 314.6h0M1319 313.7h0M1321 309.7h0M1321.4 308.7h0M1321.6 308h0M1322.2 307.1h0M1322.9 305.8h0M1323.5 304.4h0M1323.6 304h0M1324.1 303h0M1324.1 302.7h0M1327.8 296.2h0M1328.4 294.3h0M1329.5 292.7h0M1329.8 291.9h0M1330.4 290.3h0M1331.1 289.4h0M1332.9 285.7h0M1334.5 283.2h0M1337.6 276.8h0M1338.8 275.2h0M1339.2 274.3h0M1339.8 272.4h0M1340.6 272.1h0M1341.2 270.4h0M1341.8 269.3h0M1342.4 268.1h0M1344.4 264.4h0M1345.1 263.8h0M1348.1 258.3h0M1350.4 255h0M1351.1 253.8h0M1352.8 250.5h0M1356.4 245.3h0M1356.8 244.1h0M1357.4 243.5h0M1357.6 243.1h0M1358.4 241.6h0M1358.8 240.6h0M1359.9 239.9h0M1359.8 239.2h0M1360.2 238.8h0M1361.5 237.5h0M1362.1 236.5h0M1365 231.9h0M1366.1 231h0M1366.3 230.2h0M1366.8 230.2h0M1368.1 228.5h0M1368.8 227.3h0M1372.2 223.6h0M1373.6 221.7h0M1374.4 220.4h0M1375.7 218.9h0M1376.9 217.7h0M1379.9 214.3h0M1381.4 212.5h0M1384.7 209h0M1388 206h0M1389.1 204.8h0M1390.2 203.4h0M1391.2 202.5h0M1391.5 201.6h0M1395.1 198.4h0M1395.4 198.1h0M1396.2 197.4h0M1396.9 196.3h0M1397.4 195.8h0M1398.1 195.8h0M1400.1 193.7h0M1401.3 191.9h0M1402.1 191.4h0M1402.9 190.6h0M1404.1 189.6h0M1404.4 188.9h0M1406.8 186.7h0M1407.1 186.4h0M1407.1 186.2h0M1408.3 185.5h0M1408.5 185.1h0M1409.5 184.3h0M1409.6 184.1h0M1410.2 183.9h0M1413.7 181.1h0M1413.7 180.8h0M1414.4 180.6h0M1414.7 180.6h0M1415.9 179.9h0M1417.4 178.8h0M1418.2 178.6h0M1418.6 178.3h0M1420.5 177.1h0M1421.2 176.6h0M1422.8 175.5h0M1425.3 174.1h0M1426.6 173.4h0M1429.7 171.9h0M1430.5 171.1h0M1431.2 170.6h0M1432.8 170h0M1433 170h0M1433.3 169.7h0M1434.5 169.5h0M1435 169.2h0M1435.3 168.9h0M1436.6 168.4h0M1437.4 167.9h0M1437.8 167.6h0M1438.5 167.5h0M1438.9 167.3h0M1439.3 166.8h0M1440.1 166.5h0M1441.2 166.4h0M1441.4 166.3h0M1444.9 165.1h0M1445.8 164.4h0M1446.3 164h0M1446.6 164.1h0M1449.8 162.7h0M1453.6 161.6h0M1453.8 161.7h0M1455.1 161.3h0M1456.5 161.1h0M1456.8 160.7h0M1457.4 160.5h0M1460.6 159.8h0M1462 159.5h0M1463 159.4h0M1466.3 158.3h0M1467.1 158.4h0M1468.8 157.8h0M1469.1 158h0M1471.6 157.7h0M1472 157.3h0M1473.5 156.9h0M1474 156.8h0M1474.1 156.9h0M1475.8 156.7h0M1477.8 156.1h0M1479.4 156h0M1480.4 156.1h0M1481.3 155.9h0M1482.5 155.8h0M1482.7 155.6h0M1483.6 155.6h0M1484.4 155.6h0M1486.9 155.4h0M1487.2 155h0M1488.9 154.7h0M1489.5 155h0M1490.8 154.9h0M1493.7 154.4h0M1494.6 154.3h0M1495.1 154.2h0M1495.2 154.4h0M1496.2 154.4h0M1497.1 154.4h0M1497.2 154.2h0M1497.7 154.3h0M1499.1 154h0M1501.3 153.9h0M1501.8 154h0M1503.1 154h0M1503.5 154h0M1504.6 153.7h0M1505 153.5h0M1507.4 153.9h0M1509.4 153.7h0M1510.1 153.6h0M1511.8 153.6h0M1514 153.2h0M1515.3 153.2h0M1516.4 153.3h0M1518.3 153.6h0M1519.2 153.3h0M1520 153.1h0M1523.6 153.1h0M1526.6 153.2h0M1528.7 152.9h0M1530.7 153h0M1533.9 152.9h0M1534.3 153h0M1534.4 152.9h0M1534.7 152.9h0M1535.9 153h0M1536.2 152.7h0M1536.7 152.8h0M1537.6 152.9h0M1537.7 153.1h0M1538.5 152.7h0M1538.5 152.8h0M1540.2 152.8h0M1543.4 152.6h0M1543.4 153h0M1544.8 152.5h0M1544.9 152.8h0M1546.5 152.7h0M1547.1 152.8h0M1547.3 152.8h0M1550.4 152.8h0M1551 152.7h0M1552.1 152.7h0M1555 152.8h0M1556 152.7h0M1557.3 152.4h0M1558.3 152.9h0M1558.4 152.4h0M1561.9 152.6h0M1562.8 152.4h0M1563.4 152.5h0M1565.3 152.3h0M1566.4 152.7h0M1566.3 152.8h0M1567 152.4h0M1567.6 152.7h0M1567.9 152.8h0M1569.6 152.5h0M1570.2 152.6h0M1570.6 152.6h0M1571 152.6h0M1574.6 152.6h0M1575 152.6h0M1575.7 152.6h0M1576.2 152.6h0M1577 152.7h0M1577.9 152.5h0M1579.4 152.5h0M1580.6 152.6h0M1582.5 152.5h0M1583.3 152.6h0M1586.2 152.6h0M1589.6 152.8h0M1590.3 152.7h0M1591.2 152.5h0M1593.2 152.6h0M1593.8 152.7h0M1595 152.5h0M1595.5 152.4h0M1598.7 152.4h0M1599.3 152.7h0M1602.2 152.7h0M1603.4 152.6h0M1603.7 152.7h0M1606.1 152.8h0M1607 152.8h0M1607.8 152.5h0M1609.3 152.9h0M1610.1 152.4h0M1610.3 152.4h0M1611.2 152.8h0M1613 152.7h0M1614.3 152.6h0M1614.7 152.8h0M1614.9 152.7h0M1615 152.8h0M1615.9 152.5h0M1616 152.8h0M1617.9 152.9h0M1618.9 152.6h0M1620.5 152.6h0M1621.9 152.5h0M1622.8 152.9h0M1624.3 152.9h0M1627.5 152.7h0M1629.6 152.6h0M1630.2 153h0M1630.9 152.9h0M1631.3 152.7h0M1631.5 153h0M1632.4 152.7h0M1633.7 152.9h0M1635.6 153.1h0M1636.9 152.8h0M1637.6 153.2h0M1638.6 153h0M1641.6 153.1h0M1645.1 153h0M1646.2 153h0M1647.8 153.2h0M1649.5 153h0M1650.1 153.4h0M1652.1 153.4h0M1652.9 153.3h0M1653.1 153.3h0M1654.5 153.2h0M1654.8 153.4h0M1658 153.1h0M1658.8 153.2h0M1660.4 153.6h0M1663.6 153.5h0M1666.8 153.7h0M1668.7 153.4h0M1669.9 153.6h0M1670.6 153.8h0M1671.5 153.9h0M1671.7 153.9h0M1673 153.9h0M1673.8 153.7h0M1675.8 154h0M1676.6 153.8h0M1676.9 153.7h0M1677.8 153.7h0M1681.2 153.9h0M1681.2 154.1h0M1683.8 154.2h0M1685.4 154.1h0M1686.5 154.2h0M1687.6 154.5h0M1690.9 154.5h0M1693.4 154.7h0M1693.9 154.9h0M1695.7 154.9h0M1699.1 155.1h0M1699.8 155.5h0M1700.2 155.2h0M1700.8 155.3h0M1701.8 155.6h0M1702.4 155.4h0M1703.1 155.8h0M1704.4 155.8h0M1705.6 155.7h0M1706.1 155.8h0M1708.6 156.3h0M1711.4 156.4h0M1711.9 156.6h0M1713 156.8h0M1713.7 156.8h0M1717 157.4h0M1717.8 157.5h0M1718.2 157.5h0M1718.8 157.5h0M1719.7 157.6h0M1719.9 157.5h0M1721.2 157.7h0M1723.3 158.2h0M1724.6 158.3h0M1725.9 158.7h0M1726.7 158.9h0M1728.1 158.8h0M1728.7 159h0M1729.5 159.3h0M1730.4 159.5h0M1731.3 159.3h0M1734.4 159.8h0M1735.9 160.3h0M1739.1 160.5h0M1740.9 161h0M1741.3 161.1h0M1742.3 161.2h0M1744.4 161.8h0M1746.6 162.1h0M1749.9 162.4h0M1753.5 163.5h0M1755 163.6h0M1755.6 163.6h0M1756.3 163.6h0M1759.7 164.4h0M1761.4 164.8h0M1762.8 164.8h0M1763.2 165.1h0M1764.3 165.5h0M1765.9 165.7h0M1768.1 166.1h0M1768.7 166.3h0M1769.5 166.3h0M1770.4 166.8h0M1771 166.7h0M1771.3 167h0M1772.8 167.2h0M1773.2 167.4h0M1775.4 167.9h0M1776 167.8h0M1776.4 168.2h0M1777.4 168.2h0M1778.5 168.7h0M1778.8 168.8h0M1779.1 168.7h0M1781.5 169.6h0M1781.8 169.3h0M1785.4 170.4h0M1788.8 171.4h0M1789.1 171.5h0M1790.4 172.1h0M1790.9 172.2h0M1792.2 172.1h0M1793.4 172.7h0M1794.4 173.1h0M1795.1 173.4h0M1796.5 173.7h0M1799.8 174.7h0M1801.7 175.4h0M1802.7 176h0M1804.3 176.2h0M1804.9 176.7h0M1805.6 177.1h0M1806.2 177h0M1808.2 178.4h0M1808.7 178.6h0M1809.2 178.5h0M1811.1 179.5h0M1811.9 180h0M1812.2 180.4h0M1815.6 182.1h0M1816.2 182.7h0M1818.7 183.8h0M1819.2 183.8h0" fill="none" stroke="#FFC000" stroke-width="8.0" stroke-linecap="round"/>
<path d="M1307 636L1312.4 614.6L1319.2 590.5L1325.4 571.4L1335.3 543L1341.1 527L1359 480.2L1363.1 468.9L1368.4 452.7L1371.5 444.2L1382.5 418.4L1392.2 397.5L1408.1 366.2L1418.1 347.7L1429.8 327.8L1435.3 319.4L1439.9 312.9L1444.2 307.3L1448.7 302L1457.8 292.6L1475.9 276.8L1487 268.2L1491.9 264.8L1496.2 262.1L1500.6 259.8L1506.1 257.3L1513.5 254.3L1521.1 251.7L1529.7 248.9L1537.4 246.8L1550.1 244L1566 241.8L1581 240.3L1598 239.6L1627 239.1L1662.1 239.2L1683.2 239.6L1698.2 240.5L1738 245L1760.9 248.1L1796.4 254.3L1819 259" fill="none" stroke="#4472C4" stroke-width="1.6" stroke-linecap="round" stroke-linejoin="round"/><path d="M1306.9 635.8h0M1308.2 631.9h0M1308.8 628.2h0M1311 620h0M1312.9 612.7h0M1314.4 607.8h0M1314.6 606.2h0M1315.5 603h0M1317.6 596h0M1318.9 591.2h0M1322.4 581.1h0M1322.9 579.1h0M1324.4 575h0M1324.8 573.7h0M1326.2 569.9h0M1328.1 563.6h0M1329.3 559.9h0M1330.4 556.3h0M1331.3 553.6h0M1331.7 552.4h0M1335 543.4h0M1338.2 534.5h0M1340.6 529.3h0M1342.3 523.9h0M1344.6 518.6h0M1344.9 516.9h0M1346.6 513.5h0M1347.2 512.1h0M1348.2 508.8h0M1349.5 505.3h0M1350.2 503.8h0M1351.6 500.4h0M1353.7 494.8h0M1356.9 486.1h0M1357.3 484.8h0M1357.7 484.3h0M1358 483.1h0M1359.3 479.6h0M1359.3 478.8h0M1362.6 469.9h0M1363.9 465.7h0M1364.9 462.8h0M1365.8 460h0M1368.1 453.7h0M1369.5 450.1h0M1369.6 448.9h0M1370.9 446.1h0M1370.7 445.5h0M1372 443.1h0M1372.4 442.6h0M1372.5 441.6h0M1372.9 441.2h0M1372.8 440.5h0M1373.4 439.3h0M1374 438.4h0M1374.9 436.4h0M1375.6 434.1h0M1376.4 432.9h0M1377.3 430.3h0M1378 428.8h0M1378.2 428h0M1378.5 427.5h0M1380.7 422.9h0M1381.2 421.5h0M1382.3 419.1h0M1383.2 416.2h0M1384.4 414h0M1386.4 409.5h0M1387 408.9h0M1387.9 405.9h0M1388.6 404.5h0M1390.3 401.6h0M1393.5 395.1h0M1393.9 394.1h0M1395.4 391.2h0M1395.4 390.6h0M1396.4 388.5h0M1398 386h0M1398.5 384.4h0M1401.8 378.1h0M1402.2 377.2h0M1403.3 375.7h0M1403.6 375h0M1404.2 373.7h0M1404.6 372.9h0M1405.5 370.8h0M1407.7 366.9h0M1409.1 364.3h0M1412.5 358.2h0M1413 357h0M1416 351.5h0M1416.5 350.4h0M1417 350h0M1417.2 348.8h0M1419.7 345.2h0M1421 342.6h0M1424.3 337.3h0M1424.7 336.3h0M1427 332.7h0M1427.4 331.7h0M1428.8 329.7h0M1432.2 324.2h0M1433 322.8h0M1433.6 322h0M1434.3 320.7h0M1434.7 320.3h0M1435 319.5h0M1435.9 318.5h0M1436.9 316.7h0M1439.1 313.8h0M1440.3 312.6h0M1441.1 311.2h0M1444.1 307.2h0M1447.1 303.6h0M1448.1 302.6h0M1451.1 299h0M1451.6 299h0M1454.7 295.6h0M1456.4 294.1h0M1459.4 290.7h0M1460.2 290.3h0M1460.8 289.7h0M1463 288h0M1463.3 287.4h0M1463.8 286.9h0M1465.4 285.8h0M1465.8 285.5h0M1468 283.8h0M1469.6 282.5h0M1472.6 279.4h0M1476 276.8h0M1478.1 275h0M1478.6 274.7h0M1482 271.9h0M1482.5 271.8h0M1483.3 271h0M1484 270.3h0M1487.6 268h0M1488.8 267h0M1489.4 266.8h0M1490.5 265.5h0M1490.9 265.3h0M1494.2 263h0M1495 262.9h0M1495.5 262.3h0M1496.1 262.1h0M1499.2 260.2h0M1500.8 259.5h0M1502.2 259.2h0M1504.1 258.3h0M1505.4 257.6h0M1508.8 256.3h0M1509.7 256.1h0M1509.9 255.6h0M1511.5 254.9h0M1513.5 254.4h0M1514.1 254h0M1515.5 253.8h0M1516 253.3h0M1519.3 252.4h0M1520.1 251.9h0M1523.4 251h0M1526.6 249.7h0M1530 248.7h0M1530.9 248.5h0M1531.2 248.3h0M1532.1 248.3h0M1533.3 247.9h0M1534.1 247.7h0M1537.3 246.7h0M1539.4 246.3h0M1541.6 245.8h0M1544.2 245.1h0M1544.7 245.3h0M1545 245.1h0M1545.9 244.9h0M1547 244.8h0M1547.6 244.4h0M1548.2 244.5h0M1548.7 244.5h0M1549.9 244h0M1550.5 244h0M1554 243.6h0M1554.6 243.1h0M1554.9 243.2h0M1555.8 243h0M1557.1 243h0M1557.9 242.9h0M1558.2 242.8h0M1559.9 242.7h0M1561.2 242.6h0M1561.9 242.4h0M1562.6 242h0M1564.6 241.8h0M1567.9 241.8h0M1571.4 241.1h0M1571.8 241.3h0M1575.3 240.7h0M1575.8 240.9h0M1576.6 240.6h0M1577.6 240.7h0M1577.7 240.7h0M1580.3 240.3h0M1583.4 240.3h0M1583.9 240.3h0M1587.1 240h0M1588.7 239.7h0M1589.4 240.1h0M1590.3 239.8h0M1590.8 240h0M1592.9 239.7h0M1596.3 239.4h0M1599.8 239.8h0M1600.5 239.6h0M1602.3 239.5h0M1603.5 239.6h0M1604.7 239.4h0M1606.6 239.1h0M1606.8 239.5h0M1610.1 239.5h0M1611.8 239.4h0M1612.7 239.1h0M1615.9 239.3h0M1619.4 239h0M1622.3 239.1h0M1622.7 239.3h0M1624.7 239h0M1626 239.1h0M1627 239.2h0M1627.8 239.3h0M1628.9 239.2h0M1630.8 239.2h0M1632.4 239.2h0M1634.4 239.4h0M1635.1 239.1h0M1636.4 239h0M1636.5 239.2h0M1637.2 239h0M1638.3 239.3h0M1638.8 239.1h0M1639.9 238.9h0M1640.5 239.1h0M1641.2 238.9h0M1643.1 238.9h0M1644.7 239h0M1645.7 239h0M1646.7 239h0M1648 239.1h0M1650.3 239.2h0M1651.1 239h0M1652.6 239.3h0M1655.8 239.1h0M1656.1 239.2h0M1657.3 239.2h0M1658.8 238.9h0M1660.9 239.4h0M1663.9 239.2h0M1664.1 239.3h0M1666.3 239.3h0M1667.1 239.3h0M1668.8 239.2h0M1671.9 239.4h0M1673.9 239.5h0M1674.4 239.6h0M1674.8 239.4h0M1675 239.2h0M1676.4 239.6h0M1677.5 239.6h0M1678.4 239.4h0M1678.6 239.6h0M1679.6 239.4h0M1682.8 239.6h0M1683.2 239.7h0M1683.9 239.6h0M1685.9 239.7h0M1686.4 239.8h0M1689.6 240.1h0M1690 239.9h0M1693.4 240.3h0M1696.5 240.4h0M1697.2 240.4h0M1698 240.4h0M1698.7 240.6h0M1700.2 240.6h0M1703.4 241.1h0M1704.6 241.2h0M1705.2 241.2h0M1705.7 241.3h0M1706.3 241.1h0M1707.8 241.4h0M1708.3 241.5h0M1711.5 242.2h0M1711.9 242.1h0M1714.2 242.5h0M1714.9 242.5h0M1716 242.7h0M1717.2 242.4h0M1719.1 242.7h0M1720.6 243.3h0M1724.3 243.5h0M1724.5 243.5h0M1726.7 244h0M1727.4 244h0M1729.6 244h0M1731.5 244.4h0M1735 244.8h0M1738.2 244.8h0M1739.1 245h0M1739.6 245.3h0M1739.9 245.3h0M1740.2 245.1h0M1742.9 245.5h0M1745.1 245.7h0M1748 246.6h0M1751.2 247h0M1753.7 247.1h0M1755.2 247.3h0M1755.6 247.4h0M1756.6 247.6h0M1758.5 247.8h0M1760.4 248.1h0M1760.6 247.9h0M1764.1 248.7h0M1765.2 249h0M1766.1 249.2h0M1767.8 249.1h0M1768.2 249.3h0M1771.4 249.6h0M1772 249.7h0M1773.3 250.4h0M1776.3 250.6h0M1777.2 250.7h0M1780.5 251.3h0M1780.9 251.2h0M1781.3 251.7h0M1781.6 251.8h0M1783.3 251.8h0M1785.3 252.5h0M1785.9 252.6h0M1787.1 252.7h0M1790.2 253.4h0M1791.2 253.6h0M1791.9 253.6h0M1792.2 253.4h0M1792.9 253.7h0M1796 254.4h0M1797.5 254.6h0M1801.1 255h0M1801.5 255.5h0M1801.9 255.4h0M1804.2 255.8h0M1805.7 256.1h0M1806.4 256.5h0M1809.8 257.1h0M1813.3 257.5h0M1814 258h0M1815 257.9h0M1816.1 258.1h0M1816.8 258.2h0M1818.2 258.6h0" fill="none" stroke="#44546A" stroke-width="8.0" stroke-linecap="round"/>
<g fill="none" stroke="#8A3F0C" stroke-width="1.9"><circle cx="1513.4" cy="634.6" r="2.3"/><circle cx="1520" cy="620.4" r="2.3"/><circle cx="1525" cy="605" r="2.3"/><circle cx="1530.4" cy="593.4" r="2.3"/><circle cx="1535.2" cy="578.6" r="2.3"/><circle cx="1541.6" cy="566" r="2.3"/><circle cx="1548" cy="550" r="2.3"/><circle cx="1554" cy="538.4" r="2.3"/><circle cx="1559.4" cy="526.6" r="2.3"/><circle cx="1564" cy="514" r="2.3"/><circle cx="1572" cy="502" r="2.3"/><circle cx="1579.4" cy="487.6" r="2.3"/><circle cx="1586" cy="473.4" r="2.3"/><circle cx="1592.4" cy="464.6" r="2.3"/><circle cx="1600" cy="452.6" r="2.3"/><circle cx="1606.6" cy="441.6" r="2.3"/><circle cx="1615.4" cy="429.6" r="2.3"/><circle cx="1623" cy="418" r="2.3"/><circle cx="1628" cy="412" r="2.3"/><circle cx="1633" cy="406" r="2.3"/><circle cx="1641" cy="396.4" r="2.3"/><circle cx="1647" cy="387.6" r="2.3"/><circle cx="1652" cy="382.4" r="2.3"/><circle cx="1658" cy="377.6" r="2.3"/><circle cx="1660" cy="375" r="2.3"/><circle cx="1668" cy="367" r="2.3"/><circle cx="1674" cy="361.5" r="2.3"/><circle cx="1679.1" cy="356.8" r="2.3"/><circle cx="1682.3" cy="354" r="2.3"/><circle cx="1683.7" cy="352.7" r="2.3"/><circle cx="1687.2" cy="349.2" r="2.3"/><circle cx="1689.5" cy="347.1" r="2.3"/><circle cx="1691.1" cy="345.5" r="2.3"/><circle cx="1694.1" cy="343.2" r="2.3"/><circle cx="1696" cy="341.7" r="2.3"/><circle cx="1697.5" cy="340.5" r="2.3"/><circle cx="1698.9" cy="339.1" r="2.3"/><circle cx="1700.9" cy="338.4" r="2.3"/><circle cx="1702.4" cy="336.5" r="2.3"/><circle cx="1704.8" cy="334.8" r="2.3"/><circle cx="1707.7" cy="331.4" r="2.3"/><circle cx="1711.3" cy="328.5" r="2.3"/><circle cx="1712.5" cy="326.9" r="2.3"/><circle cx="1715.1" cy="324.1" r="2.3"/><circle cx="1718.8" cy="321.3" r="2.3"/><circle cx="1720.3" cy="320.2" r="2.3"/><circle cx="1722" cy="318.5" r="2.3"/><circle cx="1724.3" cy="317.2" r="2.3"/><circle cx="1726.5" cy="315.2" r="2.3"/><circle cx="1729" cy="313.8" r="2.3"/><circle cx="1731" cy="312.2" r="2.3"/><circle cx="1733.2" cy="310.3" r="2.3"/><circle cx="1734.9" cy="309" r="2.3"/><circle cx="1737.3" cy="307.9" r="2.3"/><circle cx="1740.5" cy="305.6" r="2.3"/><circle cx="1742.3" cy="304.2" r="2.3"/><circle cx="1745.9" cy="302.3" r="2.3"/><circle cx="1749.9" cy="299.6" r="2.3"/><circle cx="1753.4" cy="297.6" r="2.3"/><circle cx="1754.7" cy="296.6" r="2.3"/><circle cx="1758.4" cy="294.9" r="2.3"/><circle cx="1760.9" cy="293.4" r="2.3"/><circle cx="1765.2" cy="291.7" r="2.3"/><circle cx="1767.7" cy="290.7" r="2.3"/><circle cx="1770.4" cy="289.7" r="2.3"/><circle cx="1772.6" cy="289" r="2.3"/><circle cx="1775.2" cy="287.9" r="2.3"/><circle cx="1779.6" cy="286.4" r="2.3"/><circle cx="1782.4" cy="284.9" r="2.3"/><circle cx="1783.8" cy="283.9" r="2.3"/><circle cx="1785.6" cy="282.9" r="2.3"/><circle cx="1787.5" cy="282.3" r="2.3"/><circle cx="1790.7" cy="279.9" r="2.3"/><circle cx="1792.5" cy="279.2" r="2.3"/><circle cx="1795.9" cy="276.9" r="2.3"/><circle cx="1798.2" cy="275.7" r="2.3"/><circle cx="1799.3" cy="274.4" r="2.3"/><circle cx="1801.8" cy="272.4" r="2.3"/><circle cx="1803.8" cy="271.1" r="2.3"/><circle cx="1805.5" cy="269.3" r="2.3"/><circle cx="1808.3" cy="266.7" r="2.3"/><circle cx="1811" cy="264.7" r="2.3"/><circle cx="1813.6" cy="262.3" r="2.3"/></g>
</g>
<text font-family="'Liberation Serif','Times New Roman',Times,serif" font-weight="bold" font-size="37.5" stroke="#000" stroke-width="0.35"><tspan x="1188.8" y="85.8" textLength="27.9" lengthAdjust="spacingAndGlyphs">O</tspan></text>
<text font-family="'Liberation Serif','Times New Roman',Times,serif" font-weight="bold" font-size="37.5" stroke="#000" stroke-width="0.35"><tspan x="1272.8" y="155.5" textLength="25.9" lengthAdjust="spacingAndGlyphs">C</tspan></text>
<text font-family="'Liberation Serif','Times New Roman',Times,serif" font-weight="bold" font-size="37.5" stroke="#000" stroke-width="0.35"><tspan x="1198.4" y="170" textLength="21.9" lengthAdjust="spacingAndGlyphs">F</tspan></text>
<text font-family="'Liberation Serif','Times New Roman',Times,serif" font-weight="bold" font-size="37.5" stroke="#000" stroke-width="0.35"><tspan x="1167.8" y="332" textLength="25.9" lengthAdjust="spacingAndGlyphs">N</tspan></text>
<text font-family="'Liberation Serif','Times New Roman',Times,serif" font-weight="bold" font-size="37.5" stroke="#000" stroke-width="0.35"><tspan x="1569.8" y="73" textLength="23.9" lengthAdjust="spacingAndGlyphs">E</tspan></text>
<text font-family="'Liberation Serif','Times New Roman',Times,serif" font-weight="bold" font-size="37.5" stroke="#000" stroke-width="0.35"><tspan x="1544.8" y="142.4" textLength="27.9" lengthAdjust="spacingAndGlyphs">O</tspan><tspan x="1571.5" y="130.9" font-weight="normal" font-size="21" stroke="none">+</tspan></text>
<text font-family="'Liberation Serif','Times New Roman',Times,serif" font-weight="bold" font-size="37.5" stroke="#000" stroke-width="0.35"><tspan x="1477.8" y="257" textLength="21.9" lengthAdjust="spacingAndGlyphs">F</tspan><tspan x="1498.5" y="245.5" font-weight="normal" font-size="21" stroke="none">+</tspan></text>
<text font-family="'Liberation Serif','Times New Roman',Times,serif" font-weight="bold" font-size="37.5" stroke="#000" stroke-width="0.35"><tspan x="1686.8" y="209.6" textLength="25.9" lengthAdjust="spacingAndGlyphs">C</tspan><tspan x="1711.5" y="198.1" font-weight="normal" font-size="21" stroke="none">+</tspan></text>
<text font-family="'Liberation Serif','Times New Roman',Times,serif" font-weight="bold" font-size="37.5" stroke="#000" stroke-width="0.35"><tspan x="1611.8" y="332.5" textLength="25.9" lengthAdjust="spacingAndGlyphs">C</tspan><tspan x="1637.9" y="318.3" font-family="'Liberation Sans',Arial,Helvetica,sans-serif" font-size="15.6" textLength="9.4" lengthAdjust="spacingAndGlyphs" stroke-width="0.8" stroke-linejoin="round">2</tspan><tspan x="1649.1" y="321.0" font-weight="normal" font-size="21" stroke="none">+</tspan></text>
<text font-family="'Liberation Serif','Times New Roman',Times,serif" font-weight="bold" font-size="37.5" stroke="#000" stroke-width="0.35"><tspan x="1463.8" y="404" textLength="25.9" lengthAdjust="spacingAndGlyphs">N</tspan><tspan x="1488.5" y="392.5" font-weight="normal" font-size="21" stroke="none">+</tspan></text>
<text font-family="'Liberation Serif','Times New Roman',Times,serif" font-weight="bold" font-size="37.5" stroke="#000" stroke-width="0.35"><tspan x="1703.8" y="388" textLength="27.9" lengthAdjust="spacingAndGlyphs">O</tspan><tspan x="1731.9" y="373.8" font-family="'Liberation Sans',Arial,Helvetica,sans-serif" font-size="15.6" textLength="9.4" lengthAdjust="spacingAndGlyphs" stroke-width="0.8" stroke-linejoin="round">2</tspan><tspan x="1743.1" y="376.5" font-weight="normal" font-size="21" stroke="none">+</tspan></text>
<text font-family="'Liberation Serif','Times New Roman',Times,serif" font-weight="bold" font-size="37.5" stroke="#000" stroke-width="0.35"><tspan x="1734.8" y="507" textLength="21.9" lengthAdjust="spacingAndGlyphs">F</tspan><tspan x="1756.9" y="492.8" font-family="'Liberation Sans',Arial,Helvetica,sans-serif" font-size="15.6" textLength="9.4" lengthAdjust="spacingAndGlyphs" stroke-width="0.8" stroke-linejoin="round">2</tspan><tspan x="1768.1" y="495.5" font-weight="normal" font-size="21" stroke="none">+</tspan></text>
<text font-family="'Liberation Serif','Times New Roman',Times,serif" font-weight="bold" font-size="37.5" stroke="#000" stroke-width="0.35"><tspan x="1689.8" y="564" textLength="25.9" lengthAdjust="spacingAndGlyphs">N</tspan><tspan x="1715.9" y="549.8" font-family="'Liberation Sans',Arial,Helvetica,sans-serif" font-size="15.6" textLength="9.4" lengthAdjust="spacingAndGlyphs" stroke-width="0.8" stroke-linejoin="round">2</tspan><tspan x="1727.1" y="552.5" font-weight="normal" font-size="21" stroke="none">+</tspan></text>
<text x="1049.6" y="30.6" textLength="18.0" lengthAdjust="spacingAndGlyphs" font-family="'Liberation Serif','Times New Roman',Times,serif" font-weight="bold" font-size="36" stroke="#000" stroke-width="0.35">1</text>
<text x="1022.9" y="237.2" textLength="44.3" lengthAdjust="spacingAndGlyphs" font-family="'Liberation Serif','Times New Roman',Times,serif" font-weight="bold" font-size="36" stroke="#000" stroke-width="0.35">0.1</text>
<text x="1005.1" y="441.9" textLength="62.1" lengthAdjust="spacingAndGlyphs" font-family="'Liberation Serif','Times New Roman',Times,serif" font-weight="bold" font-size="36" stroke="#000" stroke-width="0.35">0.01</text>
<text x="987.4" y="649.8" textLength="79.8" lengthAdjust="spacingAndGlyphs" font-family="'Liberation Serif','Times New Roman',Times,serif" font-weight="bold" font-size="36" stroke="#000" stroke-width="0.35">0.001</text>
<text x="1100.6" y="693.0" text-anchor="middle" font-family="'Liberation Serif','Times New Roman',Times,serif" font-weight="bold" font-size="36" stroke="#000" stroke-width="0.35">5</text>
<text x="1243.5" y="693.0" text-anchor="middle" font-family="'Liberation Serif','Times New Roman',Times,serif" font-weight="bold" font-size="36" stroke="#000" stroke-width="0.35">10</text>
<text x="1387.5" y="693.0" text-anchor="middle" font-family="'Liberation Serif','Times New Roman',Times,serif" font-weight="bold" font-size="36" stroke="#000" stroke-width="0.35">15</text>
<text x="1531.5" y="693.0" text-anchor="middle" font-family="'Liberation Serif','Times New Roman',Times,serif" font-weight="bold" font-size="36" stroke="#000" stroke-width="0.35">20</text>
<text x="1675.5" y="693.0" text-anchor="middle" font-family="'Liberation Serif','Times New Roman',Times,serif" font-weight="bold" font-size="36" stroke="#000" stroke-width="0.35">25</text>
<text x="1819" y="693.0" text-anchor="middle" font-family="'Liberation Serif','Times New Roman',Times,serif" font-weight="bold" font-size="36" stroke="#000" stroke-width="0.35">30</text>
<text x="1318.8" y="721.8" textLength="281.4" lengthAdjust="spacingAndGlyphs" font-family="'Liberation Serif','Times New Roman',Times,serif" font-weight="bold" font-size="36" stroke="#000" stroke-width="0.35">Temperature (kK)</text>
<text transform="translate(997,436.6) rotate(-90)" textLength="213" lengthAdjust="spacingAndGlyphs" font-family="'Liberation Serif','Times New Roman',Times,serif" font-weight="bold" font-size="36" xml:space="preserve" style="white-space:pre" stroke="#000" stroke-width="0.35">Mole  fraction</text>
<text x="1173.8" y="798.3" textLength="459.2" lengthAdjust="spacingAndGlyphs" font-family="'Liberation Serif','Times New Roman',Times,serif" font-size="46.5">(b) Monatomic species.</text>
</svg></body></html>
